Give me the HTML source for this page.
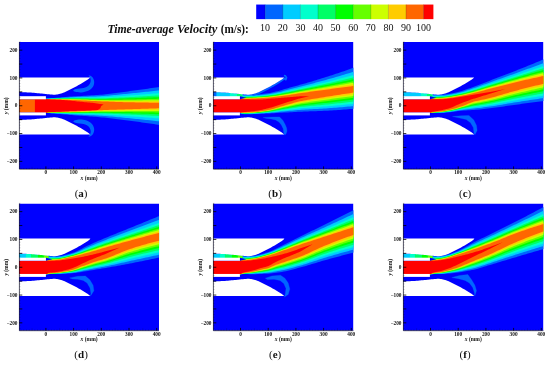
<!DOCTYPE html>
<html><head><meta charset="utf-8"><title>Time-average Velocity</title>
<style>html,body{margin:0;padding:0;background:#fff}svg{display:block}text{font-family:"Liberation Serif",serif;fill:#111}.tk{font-size:5.3px;font-weight:bold}.al{font-size:5.5px;font-weight:bold}.sl{font-size:11px}.cb{font-size:10px}.tt{font-size:12.6px;font-weight:bold}</style></head><body>
<svg width="550" height="367" viewBox="0 0 550 367">
<rect width="550" height="367" fill="#fff"/>
<defs>
<clipPath id="clipa"><rect x="19.10" y="42.00" width="139.95" height="127.20"/></clipPath>
<clipPath id="clipb"><rect x="213.10" y="42.00" width="140.35" height="127.20"/></clipPath>
<clipPath id="clipc"><rect x="403.10" y="42.00" width="140.35" height="127.20"/></clipPath>
<clipPath id="clipd"><rect x="19.10" y="203.50" width="139.95" height="127.20"/></clipPath>
<clipPath id="clipe"><rect x="213.10" y="203.50" width="140.35" height="127.20"/></clipPath>
<clipPath id="clipf"><rect x="403.10" y="203.50" width="140.35" height="127.20"/></clipPath>
</defs>
<rect x="256.20" y="4.55" width="9.10" height="14.6" fill="#0000ff"/>
<rect x="265.10" y="4.55" width="17.90" height="14.6" fill="#0066ff"/>
<rect x="282.80" y="4.55" width="17.80" height="14.6" fill="#00ccff"/>
<rect x="300.40" y="4.55" width="17.80" height="14.6" fill="#00ffcc"/>
<rect x="318.00" y="4.55" width="17.80" height="14.6" fill="#00ff66"/>
<rect x="335.60" y="4.55" width="17.80" height="14.6" fill="#00ff00"/>
<rect x="353.20" y="4.55" width="17.80" height="14.6" fill="#66ff00"/>
<rect x="370.80" y="4.55" width="17.80" height="14.6" fill="#ccff00"/>
<rect x="388.40" y="4.55" width="17.80" height="14.6" fill="#ffcc00"/>
<rect x="406.00" y="4.55" width="17.80" height="14.6" fill="#ff6600"/>
<rect x="423.60" y="4.55" width="9.80" height="14.6" fill="#ff0000"/>
<path d="M265.10,4.55v14.6M282.80,4.55v14.6M300.40,4.55v14.6M318.00,4.55v14.6M335.60,4.55v14.6M353.20,4.55v14.6M370.80,4.55v14.6M388.40,4.55v14.6M406.00,4.55v14.6M423.60,4.55v14.6" stroke="#000" stroke-opacity="0.35" stroke-width="0.5"/>
<text x="265.10" y="31.3" text-anchor="middle" class="cb">10</text>
<text x="282.80" y="31.3" text-anchor="middle" class="cb">20</text>
<text x="300.40" y="31.3" text-anchor="middle" class="cb">30</text>
<text x="318.00" y="31.3" text-anchor="middle" class="cb">40</text>
<text x="335.60" y="31.3" text-anchor="middle" class="cb">50</text>
<text x="353.20" y="31.3" text-anchor="middle" class="cb">60</text>
<text x="370.80" y="31.3" text-anchor="middle" class="cb">70</text>
<text x="388.40" y="31.3" text-anchor="middle" class="cb">80</text>
<text x="406.00" y="31.3" text-anchor="middle" class="cb">90</text>
<text x="423.60" y="31.3" text-anchor="middle" class="cb">100</text>
<text y="32.6" class="tt"><tspan x="107.4" font-style="italic" textLength="66.3" lengthAdjust="spacingAndGlyphs">Time-average</tspan> <tspan x="177.0" font-style="italic" textLength="40.3" lengthAdjust="spacingAndGlyphs">Velocity</tspan> <tspan x="220.7" textLength="28.1" lengthAdjust="spacingAndGlyphs">(m/s):</tspan></text>
<g clip-path="url(#clipa)">
<rect x="19.10" y="42.00" width="139.95" height="127.20" fill="#0000ff"/>
<polygon points="45.90,98.59 47.90,98.42 49.90,98.24 51.90,98.07 53.90,97.90 55.90,97.73 57.90,97.57 59.90,97.41 61.90,97.25 63.90,97.09 65.90,96.93 67.90,96.77 69.90,96.62 71.90,96.48 73.90,96.34 75.90,96.21 77.90,96.10 79.90,95.98 81.90,95.88 83.90,95.77 85.90,95.67 87.90,95.57 89.90,95.46 91.90,95.35 93.90,95.23 95.90,95.10 97.90,94.96 99.90,94.81 101.90,94.64 103.90,94.45 105.90,94.25 107.90,94.03 109.90,93.79 111.90,93.54 113.90,93.29 115.90,93.02 117.90,92.75 119.90,92.48 121.90,92.20 123.90,91.93 125.90,91.65 127.90,91.38 129.90,91.11 131.90,90.85 133.90,90.58 135.90,90.32 137.90,90.04 139.90,89.77 141.90,89.50 143.90,89.22 145.90,88.94 147.90,88.65 149.90,88.37 151.90,88.08 153.90,87.79 155.90,87.50 157.90,87.21 159.55,86.97 159.55,124.93 157.90,124.69 155.90,124.39 153.90,124.10 151.90,123.81 149.90,123.52 147.90,123.23 145.90,122.95 143.90,122.67 141.90,122.39 139.90,122.12 137.90,121.85 135.90,121.58 133.90,121.31 131.90,121.05 129.90,120.79 127.90,120.53 125.90,120.27 123.90,120.00 121.90,119.74 119.90,119.48 117.90,119.22 115.90,118.97 113.90,118.72 111.90,118.48 109.90,118.24 107.90,118.01 105.90,117.79 103.90,117.58 101.90,117.38 99.90,117.19 97.90,117.01 95.90,116.85 93.90,116.69 91.90,116.54 89.90,116.40 87.90,116.26 85.90,116.12 83.90,115.98 81.90,115.85 79.90,115.71 77.90,115.57 75.90,115.42 73.90,115.27 71.90,115.11 69.90,114.95 67.90,114.78 65.90,114.61 63.90,114.43 61.90,114.26 59.90,114.09 57.90,113.92 55.90,113.75 53.90,113.58 51.90,113.42 49.90,113.25 47.90,113.08 45.90,112.91" fill="#0066ff"/>
<polygon points="45.90,98.74 47.90,98.61 49.90,98.48 51.90,98.36 53.90,98.23 55.90,98.11 57.90,97.99 59.90,97.88 61.90,97.76 63.90,97.65 65.90,97.54 67.90,97.43 69.90,97.32 71.90,97.22 73.90,97.13 75.90,97.05 77.90,96.97 79.90,96.91 81.90,96.84 83.90,96.78 85.90,96.72 87.90,96.67 89.90,96.60 91.90,96.54 93.90,96.47 95.90,96.39 97.90,96.30 99.90,96.20 101.90,96.08 103.90,95.95 105.90,95.81 107.90,95.65 109.90,95.48 111.90,95.30 113.90,95.12 115.90,94.92 117.90,94.73 119.90,94.53 121.90,94.32 123.90,94.12 125.90,93.91 127.90,93.71 129.90,93.51 131.90,93.31 133.90,93.11 135.90,92.90 137.90,92.70 139.90,92.49 141.90,92.28 143.90,92.07 145.90,91.86 147.90,91.64 149.90,91.42 151.90,91.20 153.90,90.98 155.90,90.75 157.90,90.52 159.55,90.33 159.55,121.37 157.90,121.19 155.90,120.97 153.90,120.75 151.90,120.54 149.90,120.32 147.90,120.11 145.90,119.90 143.90,119.69 141.90,119.49 139.90,119.29 137.90,119.09 135.90,118.89 133.90,118.69 131.90,118.50 129.90,118.31 127.90,118.12 125.90,117.93 123.90,117.73 121.90,117.54 119.90,117.35 117.90,117.16 115.90,116.97 113.90,116.79 111.90,116.61 109.90,116.44 107.90,116.28 105.90,116.12 103.90,115.97 101.90,115.83 99.90,115.70 97.90,115.58 95.90,115.46 93.90,115.36 91.90,115.27 89.90,115.18 87.90,115.09 85.90,115.00 83.90,114.92 81.90,114.83 79.90,114.75 77.90,114.66 75.90,114.56 73.90,114.46 71.90,114.35 69.90,114.23 67.90,114.11 65.90,113.99 63.90,113.87 61.90,113.74 59.90,113.62 57.90,113.50 55.90,113.38 53.90,113.26 51.90,113.13 49.90,113.01 47.90,112.88 45.90,112.76" fill="#00ccff"/>
<polygon points="45.90,98.87 47.90,98.77 49.90,98.68 51.90,98.59 53.90,98.51 55.90,98.42 57.90,98.34 59.90,98.26 61.90,98.19 63.90,98.11 65.90,98.04 67.90,97.97 69.90,97.90 71.90,97.84 73.90,97.78 75.90,97.73 77.90,97.69 79.90,97.66 81.90,97.64 83.90,97.61 85.90,97.59 87.90,97.57 89.90,97.55 91.90,97.52 93.90,97.49 95.90,97.45 97.90,97.40 99.90,97.34 101.90,97.27 103.90,97.18 105.90,97.09 107.90,96.98 109.90,96.87 111.90,96.75 113.90,96.62 115.90,96.49 117.90,96.35 119.90,96.21 121.90,96.06 123.90,95.92 125.90,95.77 127.90,95.62 129.90,95.48 131.90,95.33 133.90,95.18 135.90,95.03 137.90,94.88 139.90,94.73 141.90,94.57 143.90,94.42 145.90,94.26 147.90,94.09 149.90,93.93 151.90,93.76 153.90,93.59 155.90,93.42 157.90,93.25 159.55,93.10 159.55,118.44 157.90,118.31 155.90,118.16 153.90,118.00 151.90,117.85 149.90,117.69 147.90,117.54 145.90,117.39 143.90,117.25 141.90,117.10 139.90,116.96 137.90,116.82 135.90,116.68 133.90,116.54 131.90,116.40 129.90,116.27 127.90,116.14 125.90,116.00 123.90,115.87 121.90,115.73 119.90,115.60 117.90,115.46 115.90,115.33 113.90,115.21 111.90,115.08 109.90,114.96 107.90,114.85 105.90,114.74 103.90,114.64 101.90,114.55 99.90,114.47 97.90,114.39 95.90,114.33 93.90,114.27 91.90,114.22 89.90,114.17 87.90,114.13 85.90,114.09 83.90,114.04 81.90,114.00 79.90,113.96 77.90,113.91 75.90,113.85 73.90,113.79 71.90,113.72 69.90,113.64 67.90,113.56 65.90,113.48 63.90,113.40 61.90,113.32 59.90,113.24 57.90,113.15 55.90,113.07 53.90,112.99 51.90,112.90 49.90,112.81 47.90,112.72 45.90,112.63" fill="#00ffcc"/>
<polygon points="45.90,98.97 47.90,98.91 49.90,98.84 51.90,98.79 53.90,98.73 55.90,98.68 57.90,98.63 59.90,98.58 61.90,98.53 63.90,98.49 65.90,98.45 67.90,98.41 69.90,98.37 71.90,98.34 73.90,98.31 75.90,98.30 77.90,98.29 79.90,98.29 81.90,98.29 83.90,98.30 85.90,98.31 87.90,98.32 89.90,98.32 91.90,98.33 93.90,98.33 95.90,98.32 97.90,98.30 99.90,98.28 101.90,98.24 103.90,98.20 105.90,98.14 107.90,98.08 109.90,98.02 111.90,97.94 113.90,97.86 115.90,97.78 117.90,97.69 119.90,97.59 121.90,97.50 123.90,97.40 125.90,97.30 127.90,97.20 129.90,97.10 131.90,97.00 133.90,96.89 135.90,96.79 137.90,96.68 139.90,96.57 141.90,96.46 143.90,96.35 145.90,96.23 147.90,96.12 149.90,96.00 151.90,95.87 153.90,95.75 155.90,95.62 157.90,95.49 159.55,95.39 159.55,116.03 157.90,115.94 155.90,115.84 153.90,115.73 151.90,115.63 149.90,115.53 147.90,115.43 145.90,115.33 143.90,115.23 141.90,115.13 139.90,115.04 137.90,114.95 135.90,114.85 133.90,114.76 131.90,114.68 129.90,114.59 127.90,114.50 125.90,114.41 123.90,114.33 121.90,114.24 119.90,114.15 117.90,114.06 115.90,113.98 113.90,113.90 111.90,113.82 109.90,113.75 107.90,113.68 105.90,113.61 103.90,113.55 101.90,113.50 99.90,113.45 97.90,113.42 95.90,113.39 93.90,113.37 91.90,113.35 89.90,113.34 87.90,113.33 85.90,113.33 83.90,113.32 81.90,113.31 79.90,113.30 77.90,113.29 75.90,113.27 73.90,113.24 71.90,113.20 69.90,113.16 67.90,113.11 65.90,113.07 63.90,113.02 61.90,112.97 59.90,112.92 57.90,112.87 55.90,112.82 53.90,112.76 51.90,112.71 49.90,112.65 47.90,112.59 45.90,112.53" fill="#00ff66"/>
<polygon points="45.90,99.05 47.90,99.00 49.90,98.96 51.90,98.93 53.90,98.90 55.90,98.87 57.90,98.84 59.90,98.81 61.90,98.79 63.90,98.77 65.90,98.75 67.90,98.74 69.90,98.72 71.90,98.71 73.90,98.71 75.90,98.71 77.90,98.73 79.90,98.75 81.90,98.77 83.90,98.80 85.90,98.83 87.90,98.87 89.90,98.90 91.90,98.92 93.90,98.95 95.90,98.96 97.90,98.97 99.90,98.97 101.90,98.96 103.90,98.95 105.90,98.92 107.90,98.90 109.90,98.86 111.90,98.82 113.90,98.78 115.90,98.73 117.90,98.67 119.90,98.62 121.90,98.56 123.90,98.49 125.90,98.43 127.90,98.36 129.90,98.29 131.90,98.22 133.90,98.15 135.90,98.08 137.90,98.01 139.90,97.93 141.90,97.85 143.90,97.77 145.90,97.69 147.90,97.61 149.90,97.52 151.90,97.43 153.90,97.34 155.90,97.25 157.90,97.15 159.55,97.07 159.55,114.25 157.90,114.19 155.90,114.13 153.90,114.06 151.90,113.99 149.90,113.93 147.90,113.87 145.90,113.80 143.90,113.74 141.90,113.68 139.90,113.62 137.90,113.57 135.90,113.51 133.90,113.46 131.90,113.40 129.90,113.35 127.90,113.30 125.90,113.24 123.90,113.19 121.90,113.14 119.90,113.08 117.90,113.03 115.90,112.98 113.90,112.93 111.90,112.89 109.90,112.85 107.90,112.81 105.90,112.77 103.90,112.75 101.90,112.72 99.90,112.71 97.90,112.70 95.90,112.70 93.90,112.70 91.90,112.71 89.90,112.73 87.90,112.75 85.90,112.77 83.90,112.79 81.90,112.81 79.90,112.82 77.90,112.83 75.90,112.83 73.90,112.83 71.90,112.82 69.90,112.80 67.90,112.78 65.90,112.76 63.90,112.74 61.90,112.71 59.90,112.69 57.90,112.66 55.90,112.63 53.90,112.60 51.90,112.57 49.90,112.53 47.90,112.49 45.90,112.45" fill="#00ff00"/>
<polygon points="45.90,99.12 47.90,99.10 49.90,99.09 51.90,99.07 53.90,99.06 55.90,99.06 57.90,99.05 59.90,99.05 61.90,99.05 63.90,99.06 65.90,99.06 67.90,99.07 69.90,99.08 71.90,99.09 73.90,99.11 75.90,99.13 77.90,99.17 79.90,99.21 81.90,99.26 83.90,99.31 85.90,99.37 87.90,99.42 89.90,99.47 91.90,99.53 93.90,99.57 95.90,99.61 97.90,99.65 99.90,99.67 101.90,99.69 103.90,99.70 105.90,99.71 107.90,99.71 109.90,99.71 111.90,99.71 113.90,99.70 115.90,99.69 117.90,99.67 119.90,99.65 121.90,99.63 123.90,99.60 125.90,99.57 127.90,99.54 129.90,99.50 131.90,99.46 133.90,99.43 135.90,99.39 137.90,99.35 139.90,99.30 141.90,99.26 143.90,99.21 145.90,99.16 147.90,99.11 149.90,99.06 151.90,99.01 153.90,98.95 155.90,98.89 157.90,98.82 159.55,98.77 159.55,112.45 157.90,112.43 155.90,112.40 153.90,112.37 151.90,112.34 149.90,112.32 147.90,112.29 145.90,112.26 143.90,112.24 141.90,112.22 139.90,112.19 137.90,112.17 135.90,112.15 133.90,112.13 131.90,112.12 129.90,112.10 127.90,112.08 125.90,112.06 123.90,112.04 121.90,112.03 119.90,112.01 117.90,111.99 115.90,111.97 113.90,111.96 111.90,111.95 109.90,111.94 107.90,111.93 105.90,111.93 103.90,111.93 101.90,111.94 99.90,111.95 97.90,111.97 95.90,112.00 93.90,112.03 91.90,112.07 89.90,112.11 87.90,112.16 85.90,112.21 83.90,112.25 81.90,112.30 79.90,112.34 77.90,112.37 75.90,112.40 73.90,112.42 71.90,112.43 69.90,112.44 67.90,112.44 65.90,112.45 63.90,112.45 61.90,112.45 59.90,112.45 57.90,112.45 55.90,112.44 53.90,112.43 51.90,112.42 49.90,112.41 47.90,112.39 45.90,112.38" fill="#66ff00"/>
<polygon points="45.90,99.18 47.90,99.18 49.90,99.18 51.90,99.19 53.90,99.20 55.90,99.21 57.90,99.22 59.90,99.24 61.90,99.26 63.90,99.28 65.90,99.31 67.90,99.33 69.90,99.36 71.90,99.39 73.90,99.43 75.90,99.47 77.90,99.52 79.90,99.58 81.90,99.65 83.90,99.72 85.90,99.79 87.90,99.86 89.90,99.94 91.90,100.01 93.90,100.07 95.90,100.13 97.90,100.19 99.90,100.23 101.90,100.27 103.90,100.31 105.90,100.34 107.90,100.37 109.90,100.39 111.90,100.42 113.90,100.43 115.90,100.45 117.90,100.46 119.90,100.47 121.90,100.48 123.90,100.48 125.90,100.48 127.90,100.47 129.90,100.46 131.90,100.45 133.90,100.44 135.90,100.43 137.90,100.41 139.90,100.40 141.90,100.38 143.90,100.36 145.90,100.34 147.90,100.31 149.90,100.29 151.90,100.26 153.90,100.23 155.90,100.19 157.90,100.15 159.55,100.12 159.55,111.02 157.90,111.02 155.90,111.02 153.90,111.03 151.90,111.03 149.90,111.03 147.90,111.03 145.90,111.04 143.90,111.04 141.90,111.05 139.90,111.06 137.90,111.06 135.90,111.07 133.90,111.08 131.90,111.09 129.90,111.10 127.90,111.11 125.90,111.12 123.90,111.13 121.90,111.14 119.90,111.15 117.90,111.16 115.90,111.17 113.90,111.19 111.90,111.20 109.90,111.22 107.90,111.24 105.90,111.26 103.90,111.29 101.90,111.32 99.90,111.35 97.90,111.39 95.90,111.44 93.90,111.50 91.90,111.56 89.90,111.62 87.90,111.69 85.90,111.76 83.90,111.82 81.90,111.89 79.90,111.95 77.90,112.00 75.90,112.05 73.90,112.09 71.90,112.12 69.90,112.15 67.90,112.18 65.90,112.20 63.90,112.22 61.90,112.24 59.90,112.26 57.90,112.28 55.90,112.29 53.90,112.30 51.90,112.31 49.90,112.31 47.90,112.32 45.90,112.31" fill="#ccff00"/>
<polygon points="45.90,99.25 47.90,99.26 49.90,99.28 51.90,99.31 53.90,99.33 55.90,99.36 57.90,99.40 59.90,99.43 61.90,99.47 63.90,99.51 65.90,99.56 67.90,99.60 69.90,99.65 71.90,99.70 73.90,99.75 75.90,99.82 77.90,99.89 79.90,99.96 81.90,100.05 83.90,100.14 85.90,100.23 87.90,100.32 89.90,100.41 91.90,100.50 93.90,100.59 95.90,100.67 97.90,100.74 99.90,100.81 101.90,100.87 103.90,100.93 105.90,100.99 107.90,101.04 109.90,101.10 111.90,101.15 113.90,101.20 115.90,101.24 117.90,101.28 119.90,101.32 121.90,101.36 123.90,101.39 125.90,101.42 127.90,101.44 129.90,101.46 131.90,101.47 133.90,101.49 135.90,101.50 137.90,101.52 139.90,101.53 141.90,101.54 143.90,101.55 145.90,101.55 147.90,101.56 149.90,101.56 151.90,101.55 153.90,101.55 155.90,101.54 157.90,101.53 159.55,101.52 159.55,109.54 157.90,109.57 155.90,109.60 153.90,109.63 151.90,109.67 149.90,109.70 147.90,109.74 145.90,109.77 143.90,109.81 141.90,109.84 139.90,109.88 137.90,109.92 135.90,109.96 133.90,109.99 131.90,110.03 129.90,110.07 127.90,110.11 125.90,110.15 123.90,110.19 121.90,110.23 119.90,110.26 117.90,110.30 115.90,110.34 113.90,110.38 111.90,110.43 109.90,110.47 107.90,110.52 105.90,110.56 103.90,110.62 101.90,110.67 99.90,110.73 97.90,110.79 95.90,110.86 93.90,110.94 91.90,111.03 89.90,111.11 87.90,111.20 85.90,111.29 83.90,111.38 81.90,111.47 79.90,111.55 77.90,111.63 75.90,111.69 73.90,111.75 71.90,111.80 69.90,111.85 67.90,111.90 65.90,111.94 63.90,111.99 61.90,112.03 59.90,112.07 57.90,112.10 55.90,112.13 53.90,112.16 51.90,112.19 49.90,112.22 47.90,112.24 45.90,112.25" fill="#ffcc00"/>
<polygon points="45.90,99.30 47.90,99.33 49.90,99.37 51.90,99.41 53.90,99.45 55.90,99.50 57.90,99.55 59.90,99.60 61.90,99.65 63.90,99.71 65.90,99.77 67.90,99.83 69.90,99.90 71.90,99.96 73.90,100.03 75.90,100.11 77.90,100.19 79.90,100.29 81.90,100.39 83.90,100.49 85.90,100.60 87.90,100.71 89.90,100.81 91.90,100.92 93.90,101.02 95.90,101.12 97.90,101.21 99.90,101.30 101.90,101.38 103.90,101.45 105.90,101.53 107.90,101.61 109.90,101.69 111.90,101.76 113.90,101.84 115.90,101.91 117.90,101.97 119.90,102.04 121.90,102.10 123.90,102.16 125.90,102.21 127.90,102.26 129.90,102.30 131.90,102.34 133.90,102.37 135.90,102.41 137.90,102.45 139.90,102.48 141.90,102.51 143.90,102.55 145.90,102.57 147.90,102.60 149.90,102.63 151.90,102.65 153.90,102.67 155.90,102.68 157.90,102.69 159.55,102.70 159.55,108.29 157.90,108.34 155.90,108.40 153.90,108.46 151.90,108.52 149.90,108.58 147.90,108.64 145.90,108.70 143.90,108.76 141.90,108.83 139.90,108.89 137.90,108.95 135.90,109.01 133.90,109.08 131.90,109.14 129.90,109.20 127.90,109.27 125.90,109.33 123.90,109.39 121.90,109.45 119.90,109.52 117.90,109.58 115.90,109.64 113.90,109.71 111.90,109.77 109.90,109.84 107.90,109.91 105.90,109.98 103.90,110.05 101.90,110.13 99.90,110.20 97.90,110.29 95.90,110.38 93.90,110.48 91.90,110.58 89.90,110.69 87.90,110.79 85.90,110.90 83.90,111.01 81.90,111.11 79.90,111.21 77.90,111.31 75.90,111.39 73.90,111.47 71.90,111.54 69.90,111.60 67.90,111.67 65.90,111.73 63.90,111.79 61.90,111.85 59.90,111.90 57.90,111.95 55.90,112.00 53.90,112.05 51.90,112.09 49.90,112.13 47.90,112.17 45.90,112.20" fill="#ff6600"/>
<polygon points="45.90,99.30 47.40,99.32 48.90,99.35 50.40,99.39 51.90,99.44 53.40,99.50 54.90,99.56 56.40,99.63 57.90,99.70 59.40,99.77 60.90,99.85 62.40,99.94 63.90,100.06 65.40,100.18 66.90,100.31 68.40,100.45 69.90,100.59 71.40,100.74 72.90,100.90 74.40,101.07 75.90,101.25 77.40,101.42 78.90,101.57 80.40,101.72 81.90,101.87 83.40,102.01 84.90,102.15 86.40,102.30 87.90,102.44 89.40,102.58 90.90,102.72 92.40,102.87 93.90,103.03 95.40,103.21 96.90,103.42 98.40,103.65 99.90,103.89 101.10,104.10 103.60,104.50 101.20,106.00 100.40,108.20 97.80,109.90 94.00,110.30 93.90,110.30 92.40,110.37 90.90,110.43 89.40,110.49 87.90,110.55 86.40,110.60 84.90,110.65 83.40,110.70 81.90,110.74 80.40,110.78 78.90,110.82 77.40,110.86 75.90,110.90 74.40,110.94 72.90,110.99 71.40,111.04 69.90,111.10 68.40,111.18 66.90,111.27 65.40,111.37 63.90,111.47 62.40,111.57 60.90,111.66 59.40,111.73 57.90,111.79 56.40,111.86 54.90,111.92 53.40,111.97 51.90,112.03 50.40,112.08 48.90,112.12 47.40,112.16 45.90,112.20" fill="#ff0000"/>
<rect x="19.10" y="99.25" width="27.10" height="13.3" fill="#ff6600"/>
<rect x="34.90" y="99.25" width="12.50" height="13.3" fill="#ff0000"/>
<path d="M88.70,75.30 C89.08,75.18 91.58,76.15 92.50,77.30 C93.42,78.45 94.18,80.53 94.20,82.20 C94.22,83.87 93.60,85.87 92.60,87.30 C91.60,88.73 90.07,89.95 88.20,90.80 C86.33,91.65 83.57,92.23 81.40,92.40 C79.23,92.57 76.55,92.13 75.20,91.80 C73.85,91.47 73.17,90.87 73.30,90.40 C73.43,89.93 74.28,89.40 76.00,89.00 C77.72,88.60 81.50,88.57 83.60,88.00 C85.70,87.43 87.43,86.67 88.60,85.60 C89.77,84.53 90.33,82.87 90.60,81.60 C90.87,80.33 90.52,79.05 90.20,78.00 C89.88,76.95 88.32,75.42 88.70,75.30Z" fill="#0066ff"/>
<path d="M88.70,136.70 C89.08,136.82 91.58,135.85 92.50,134.70 C93.42,133.55 94.18,131.47 94.20,129.80 C94.22,128.13 93.60,126.13 92.60,124.70 C91.60,123.27 90.07,122.05 88.20,121.20 C86.33,120.35 83.57,119.77 81.40,119.60 C79.23,119.43 76.55,119.87 75.20,120.20 C73.85,120.53 73.17,121.13 73.30,121.60 C73.43,122.07 74.28,122.60 76.00,123.00 C77.72,123.40 81.50,123.43 83.60,124.00 C85.70,124.57 87.43,125.33 88.60,126.40 C89.77,127.47 90.33,129.13 90.60,130.40 C90.87,131.67 90.52,132.95 90.20,134.00 C89.88,135.05 88.32,136.58 88.70,136.70Z" fill="#0066ff"/>
<polygon points="19.10,77.45 90.20,77.45 90.20,77.45 90.10,77.54 89.10,78.39 88.10,79.18 87.10,79.89 86.10,80.57 85.10,81.21 84.10,81.84 83.10,82.46 82.10,83.06 81.10,83.65 80.10,84.23 79.10,84.80 78.10,85.36 77.10,85.90 76.10,86.43 75.10,86.96 74.10,87.48 73.10,87.99 72.10,88.51 71.10,89.04 70.10,89.56 69.10,90.08 68.10,90.57 67.10,91.04 66.10,91.50 65.10,91.95 64.10,92.38 63.10,92.78 62.10,93.15 61.10,93.48 60.10,93.81 59.10,94.11 58.10,94.34 57.10,94.49 56.10,94.59 55.10,94.67 54.10,94.70 53.10,94.67 52.10,94.60 51.10,94.51 50.10,94.44 49.10,94.35 48.10,94.26 47.10,94.15 46.10,94.05 45.10,93.94 44.10,93.83 43.10,93.72 42.10,93.61 41.10,93.51 40.10,93.41 39.10,93.32 38.10,93.22 37.10,93.13 36.10,93.03 35.10,92.94 34.10,92.86 33.10,92.77 32.10,92.69 31.10,92.62 30.10,92.56 29.10,92.50 28.10,92.44 27.10,92.38 26.10,92.33 25.10,92.28 24.10,92.23 23.10,92.19 22.10,92.15 21.10,92.11 20.10,92.08 19.10,92.05" fill="#fff"/>
<polygon points="19.10,134.55 90.20,134.55 90.20,134.55 90.10,134.46 89.10,133.61 88.10,132.82 87.10,132.11 86.10,131.43 85.10,130.79 84.10,130.16 83.10,129.54 82.10,128.94 81.10,128.35 80.10,127.77 79.10,127.20 78.10,126.64 77.10,126.10 76.10,125.57 75.10,125.04 74.10,124.52 73.10,124.01 72.10,123.49 71.10,122.96 70.10,122.44 69.10,121.92 68.10,121.43 67.10,120.96 66.10,120.50 65.10,120.05 64.10,119.62 63.10,119.22 62.10,118.85 61.10,118.52 60.10,118.19 59.10,117.89 58.10,117.66 57.10,117.51 56.10,117.41 55.10,117.33 54.10,117.30 53.10,117.33 52.10,117.40 51.10,117.49 50.10,117.56 49.10,117.65 48.10,117.74 47.10,117.85 46.10,117.95 45.10,118.06 44.10,118.17 43.10,118.28 42.10,118.39 41.10,118.49 40.10,118.59 39.10,118.68 38.10,118.78 37.10,118.87 36.10,118.97 35.10,119.06 34.10,119.14 33.10,119.23 32.10,119.31 31.10,119.38 30.10,119.44 29.10,119.50 28.10,119.56 27.10,119.62 26.10,119.67 25.10,119.72 24.10,119.77 23.10,119.81 22.10,119.85 21.10,119.89 20.10,119.92 19.10,119.95" fill="#fff"/>
<rect x="19.10" y="96.20" width="26.80" height="3.05" fill="#fff"/>
<rect x="19.10" y="112.45" width="26.80" height="2.95" fill="#fff"/>
</g>
<path d="M19.40,42.00V169.20H159.05" fill="none" stroke="#000" stroke-width="0.6"/>
<path d="M19.10,161.35h3.2M19.10,147.45h3.2M19.10,133.55h3.2M19.10,119.65h3.2M19.10,105.75h3.2M19.10,91.85h3.2M19.10,77.95h3.2M19.10,64.05h3.2M19.10,50.15h3.2M45.90,169.20v-2.8M73.60,169.20v-2.8M101.30,169.20v-2.8M129.00,169.20v-2.8M156.70,169.20v-2.8" stroke="#000" stroke-width="0.8" fill="none"/>
<path d="M19.10,166.91h1.5M19.10,164.13h1.5M19.10,158.57h1.5M19.10,155.79h1.5M19.10,153.01h1.5M19.10,150.23h1.5M19.10,144.67h1.5M19.10,141.89h1.5M19.10,139.11h1.5M19.10,136.33h1.5M19.10,130.77h1.5M19.10,127.99h1.5M19.10,125.21h1.5M19.10,122.43h1.5M19.10,116.87h1.5M19.10,114.09h1.5M19.10,111.31h1.5M19.10,108.53h1.5M19.10,102.97h1.5M19.10,100.19h1.5M19.10,97.41h1.5M19.10,94.63h1.5M19.10,89.07h1.5M19.10,86.29h1.5M19.10,83.51h1.5M19.10,80.73h1.5M19.10,75.17h1.5M19.10,72.39h1.5M19.10,69.61h1.5M19.10,66.83h1.5M19.10,61.27h1.5M19.10,58.49h1.5M19.10,55.71h1.5M19.10,52.93h1.5M19.10,47.37h1.5M19.10,44.59h1.5M19.10,41.81h1.5M20.97,169.20v-1.3M23.74,169.20v-1.3M26.51,169.20v-1.3M29.28,169.20v-1.3M32.05,169.20v-2.4M34.82,169.20v-1.3M37.59,169.20v-1.3M40.36,169.20v-1.3M43.13,169.20v-1.3M48.67,169.20v-1.3M51.44,169.20v-1.3M54.21,169.20v-1.3M56.98,169.20v-1.3M59.75,169.20v-2.4M62.52,169.20v-1.3M65.29,169.20v-1.3M68.06,169.20v-1.3M70.83,169.20v-1.3M76.37,169.20v-1.3M79.14,169.20v-1.3M81.91,169.20v-1.3M84.68,169.20v-1.3M87.45,169.20v-2.4M90.22,169.20v-1.3M92.99,169.20v-1.3M95.76,169.20v-1.3M98.53,169.20v-1.3M104.07,169.20v-1.3M106.84,169.20v-1.3M109.61,169.20v-1.3M112.38,169.20v-1.3M115.15,169.20v-2.4M117.92,169.20v-1.3M120.69,169.20v-1.3M123.46,169.20v-1.3M126.23,169.20v-1.3M131.77,169.20v-1.3M134.54,169.20v-1.3M137.31,169.20v-1.3M140.08,169.20v-1.3M142.85,169.20v-2.4M145.62,169.20v-1.3M148.39,169.20v-1.3M151.16,169.20v-1.3M153.93,169.20v-1.3" stroke="#000" stroke-width="0.45" stroke-opacity="0.4" fill="none"/>
<text x="17.50" y="51.85" text-anchor="end" class="tk">200</text>
<text x="17.50" y="79.65" text-anchor="end" class="tk">100</text>
<text x="17.50" y="107.45" text-anchor="end" class="tk">0</text>
<text x="17.50" y="135.25" text-anchor="end" class="tk">−100</text>
<text x="17.50" y="163.05" text-anchor="end" class="tk">−200</text>
<text x="45.90" y="174.30" text-anchor="middle" class="tk">0</text>
<text x="73.60" y="174.30" text-anchor="middle" class="tk">100</text>
<text x="101.30" y="174.30" text-anchor="middle" class="tk">200</text>
<text x="129.00" y="174.30" text-anchor="middle" class="tk">300</text>
<text x="156.70" y="174.30" text-anchor="middle" class="tk">400</text>
<text x="89.08" y="179.90" text-anchor="middle" class="al"><tspan font-style="italic">x</tspan> (mm)</text>
<text transform="translate(7.60,105.75) rotate(-90)" text-anchor="middle" class="al"><tspan font-style="italic">y</tspan> (mm)</text>
<text x="81.10" y="196.90" text-anchor="middle" class="sl">(<tspan font-weight="bold">a</tspan>)</text>
<g clip-path="url(#clipb)">
<rect x="213.10" y="42.00" width="140.35" height="127.20" fill="#0000ff"/>
<polygon points="239.90,94.30 241.90,94.44 243.90,94.55 245.90,94.60 247.90,94.60 249.90,94.60 251.90,94.60 253.90,94.58 255.90,94.50 257.90,94.38 259.90,94.24 261.90,94.08 263.90,93.84 265.90,93.55 267.90,93.23 269.90,92.89 271.90,92.51 273.90,92.09 275.90,91.62 277.90,91.13 279.90,90.60 281.90,90.03 283.90,89.36 285.90,88.76 287.90,88.18 289.90,87.62 291.90,87.08 293.90,86.53 295.90,85.99 297.90,85.44 299.90,84.87 301.90,84.30 303.90,83.72 305.90,83.14 307.90,82.56 309.90,81.98 311.90,81.39 313.90,80.80 315.90,80.20 317.90,79.60 319.90,78.99 321.90,78.37 323.90,77.75 325.90,77.11 327.90,76.47 329.90,75.83 331.90,75.18 333.90,74.52 335.90,73.85 337.90,73.18 339.90,72.51 341.90,71.82 343.90,71.13 345.90,70.44 347.90,69.73 349.90,69.03 351.90,68.31 353.95,67.58 353.95,108.78 351.90,108.95 349.90,109.12 347.90,109.28 345.90,109.45 343.90,109.60 341.90,109.75 339.90,109.90 337.90,110.04 335.90,110.18 333.90,110.31 331.90,110.43 329.90,110.54 327.90,110.65 325.90,110.76 323.90,110.85 321.90,110.94 319.90,111.02 317.90,111.09 315.90,111.16 313.90,111.22 311.90,111.29 309.90,111.35 307.90,111.42 305.90,111.49 303.90,111.56 301.90,111.64 299.90,111.73 297.90,111.82 295.90,111.93 293.90,112.04 291.90,112.15 289.90,112.27 287.90,112.38 285.90,112.50 283.90,112.61 281.90,112.72 279.90,112.84 277.90,112.96 275.90,113.07 273.90,113.19 271.90,113.30 269.90,113.40 267.90,113.49 265.90,113.58 263.90,113.67 261.90,113.77 259.90,113.86 257.90,113.95 255.90,114.04 253.90,114.12 251.90,114.18 249.90,114.24 247.90,114.28 245.90,114.30 243.90,114.24 241.90,113.79 239.90,113.20" fill="#0066ff"/>
<polygon points="239.90,95.35 241.90,95.45 243.90,95.52 245.90,95.54 247.90,95.52 249.90,95.51 251.90,95.49 253.90,95.45 255.90,95.37 257.90,95.26 259.90,95.13 261.90,94.97 263.90,94.76 265.90,94.51 267.90,94.23 269.90,93.92 271.90,93.58 273.90,93.20 275.90,92.79 277.90,92.35 279.90,91.89 281.90,91.38 283.90,90.80 285.90,90.28 287.90,89.76 289.90,89.25 291.90,88.75 293.90,88.26 295.90,87.76 297.90,87.26 299.90,86.75 301.90,86.24 303.90,85.72 305.90,85.21 307.90,84.69 309.90,84.18 311.90,83.66 313.90,83.14 315.90,82.62 317.90,82.09 319.90,81.55 321.90,81.01 323.90,80.47 325.90,79.92 327.90,79.36 329.90,78.79 331.90,78.23 333.90,77.65 335.90,77.08 337.90,76.49 339.90,75.91 341.90,75.32 343.90,74.72 345.90,74.12 347.90,73.51 349.90,72.90 351.90,72.29 353.95,71.66 353.95,106.02 351.90,106.21 349.90,106.40 347.90,106.59 345.90,106.77 343.90,106.96 341.90,107.13 339.90,107.31 337.90,107.48 335.90,107.64 333.90,107.80 331.90,107.96 329.90,108.11 327.90,108.25 325.90,108.39 323.90,108.53 321.90,108.65 319.90,108.77 317.90,108.89 315.90,109.00 313.90,109.10 311.90,109.21 309.90,109.32 307.90,109.44 305.90,109.56 303.90,109.68 301.90,109.82 299.90,109.96 297.90,110.12 295.90,110.29 293.90,110.47 291.90,110.66 289.90,110.86 287.90,111.05 285.90,111.24 283.90,111.43 281.90,111.62 279.90,111.82 277.90,112.02 275.90,112.22 273.90,112.41 271.90,112.60 269.90,112.76 267.90,112.91 265.90,113.04 263.90,113.18 261.90,113.31 259.90,113.44 257.90,113.56 255.90,113.67 253.90,113.76 251.90,113.84 249.90,113.90 247.90,113.95 245.90,113.97 243.90,113.94 241.90,113.57 239.90,113.08" fill="#00ccff"/>
<polygon points="239.90,96.18 241.90,96.24 243.90,96.28 245.90,96.29 247.90,96.26 249.90,96.22 251.90,96.19 253.90,96.14 255.90,96.06 257.90,95.95 259.90,95.83 261.90,95.68 263.90,95.49 265.90,95.26 267.90,95.01 269.90,94.74 271.90,94.44 273.90,94.09 275.90,93.72 277.90,93.32 279.90,92.90 281.90,92.45 283.90,91.95 285.90,91.48 287.90,91.01 289.90,90.55 291.90,90.08 293.90,89.62 295.90,89.16 297.90,88.70 299.90,88.24 301.90,87.78 303.90,87.31 305.90,86.85 307.90,86.39 309.90,85.93 311.90,85.47 313.90,85.00 315.90,84.53 317.90,84.06 319.90,83.59 321.90,83.11 323.90,82.63 325.90,82.14 327.90,81.65 329.90,81.15 331.90,80.65 333.90,80.14 335.90,79.63 337.90,79.12 339.90,78.61 341.90,78.09 343.90,77.57 345.90,77.04 347.90,76.51 349.90,75.98 351.90,75.44 353.95,74.89 353.95,103.73 351.90,103.94 349.90,104.15 347.90,104.35 345.90,104.56 343.90,104.76 341.90,104.96 339.90,105.16 337.90,105.35 335.90,105.54 333.90,105.72 331.90,105.91 329.90,106.09 327.90,106.26 325.90,106.43 323.90,106.60 321.90,106.76 319.90,106.91 317.90,107.06 315.90,107.20 313.90,107.35 311.90,107.49 309.90,107.64 307.90,107.79 305.90,107.95 303.90,108.12 301.90,108.30 299.90,108.49 297.90,108.70 295.90,108.93 293.90,109.18 291.90,109.43 289.90,109.68 287.90,109.94 285.90,110.20 283.90,110.45 281.90,110.70 279.90,110.97 277.90,111.24 275.90,111.51 273.90,111.77 271.90,112.01 269.90,112.24 267.90,112.43 265.90,112.60 263.90,112.76 261.90,112.93 259.90,113.09 257.90,113.23 255.90,113.36 253.90,113.47 251.90,113.56 249.90,113.62 247.90,113.67 245.90,113.71 243.90,113.68 241.90,113.38 239.90,112.98" fill="#00ffcc"/>
<polygon points="239.90,96.80 241.90,96.84 243.90,96.86 245.90,96.84 247.90,96.80 249.90,96.76 251.90,96.72 253.90,96.66 255.90,96.58 257.90,96.47 259.90,96.35 261.90,96.21 263.90,96.03 265.90,95.83 267.90,95.60 269.90,95.35 271.90,95.07 273.90,94.76 275.90,94.41 277.90,94.05 279.90,93.67 281.90,93.26 283.90,92.80 285.90,92.37 287.90,91.94 289.90,91.51 291.90,91.08 293.90,90.64 295.90,90.21 297.90,89.78 299.90,89.35 301.90,88.92 303.90,88.50 305.90,88.08 307.90,87.65 309.90,87.23 311.90,86.81 313.90,86.39 315.90,85.97 317.90,85.54 319.90,85.11 321.90,84.68 323.90,84.24 325.90,83.80 327.90,83.35 329.90,82.90 331.90,82.45 333.90,82.00 335.90,81.54 337.90,81.08 339.90,80.62 341.90,80.16 343.90,79.69 345.90,79.22 347.90,78.75 349.90,78.27 351.90,77.79 353.95,77.30 353.95,101.57 351.90,101.80 349.90,102.02 347.90,102.25 345.90,102.47 343.90,102.69 341.90,102.91 339.90,103.13 337.90,103.34 335.90,103.55 333.90,103.77 331.90,103.97 329.90,104.18 327.90,104.38 325.90,104.58 323.90,104.78 321.90,104.97 319.90,105.15 317.90,105.33 315.90,105.51 313.90,105.69 311.90,105.87 309.90,106.05 307.90,106.25 305.90,106.44 303.90,106.65 301.90,106.87 299.90,107.11 297.90,107.37 295.90,107.65 293.90,107.95 291.90,108.26 289.90,108.58 287.90,108.90 285.90,109.22 283.90,109.52 281.90,109.84 279.90,110.17 277.90,110.51 275.90,110.84 273.90,111.16 271.90,111.47 269.90,111.74 267.90,111.97 265.90,112.17 263.90,112.38 261.90,112.57 259.90,112.76 257.90,112.93 255.90,113.07 253.90,113.20 251.90,113.29 249.90,113.36 247.90,113.42 245.90,113.46 243.90,113.45 241.90,113.21 239.90,112.89" fill="#00ff66"/>
<polygon points="239.90,97.28 241.90,97.29 243.90,97.29 245.90,97.27 247.90,97.22 249.90,97.17 251.90,97.12 253.90,97.06 255.90,96.97 257.90,96.86 259.90,96.75 261.90,96.61 263.90,96.45 265.90,96.26 267.90,96.05 269.90,95.82 271.90,95.56 273.90,95.26 275.90,94.94 277.90,94.60 279.90,94.25 281.90,93.87 283.90,93.45 285.90,93.06 287.90,92.65 289.90,92.25 291.90,91.84 293.90,91.42 295.90,91.01 297.90,90.61 299.90,90.20 301.90,89.80 303.90,89.41 305.90,89.01 307.90,88.62 309.90,88.23 311.90,87.84 313.90,87.45 315.90,87.06 317.90,86.67 319.90,86.27 321.90,85.87 323.90,85.47 325.90,85.07 327.90,84.66 329.90,84.25 331.90,83.83 333.90,83.42 335.90,83.00 337.90,82.58 339.90,82.16 341.90,81.74 343.90,81.31 345.90,80.89 347.90,80.46 349.90,80.02 351.90,79.59 353.95,79.15 353.95,99.59 351.90,99.83 349.90,100.07 347.90,100.31 345.90,100.55 343.90,100.79 341.90,101.03 339.90,101.26 337.90,101.50 335.90,101.74 333.90,101.97 331.90,102.20 329.90,102.43 327.90,102.66 325.90,102.89 323.90,103.11 321.90,103.33 319.90,103.54 317.90,103.75 315.90,103.96 313.90,104.17 311.90,104.38 309.90,104.60 307.90,104.82 305.90,105.06 303.90,105.31 301.90,105.57 299.90,105.84 297.90,106.15 295.90,106.48 293.90,106.83 291.90,107.19 289.90,107.57 287.90,107.94 285.90,108.31 283.90,108.67 281.90,109.04 279.90,109.44 277.90,109.83 275.90,110.23 273.90,110.61 271.90,110.96 269.90,111.28 267.90,111.55 265.90,111.79 263.90,112.02 261.90,112.24 259.90,112.45 257.90,112.64 255.90,112.81 253.90,112.95 251.90,113.05 249.90,113.12 247.90,113.18 245.90,113.22 243.90,113.23 241.90,113.05 239.90,112.80" fill="#00ff00"/>
<polygon points="239.90,97.78 241.90,97.77 243.90,97.76 245.90,97.72 247.90,97.66 249.90,97.61 251.90,97.54 253.90,97.47 255.90,97.39 257.90,97.28 259.90,97.17 261.90,97.04 263.90,96.89 265.90,96.72 267.90,96.53 269.90,96.31 271.90,96.07 273.90,95.80 275.90,95.51 277.90,95.19 279.90,94.86 281.90,94.52 283.90,94.15 285.90,93.78 287.90,93.41 289.90,93.03 291.90,92.64 293.90,92.25 295.90,91.86 297.90,91.48 299.90,91.10 301.90,90.73 303.90,90.37 305.90,90.01 307.90,89.65 309.90,89.29 311.90,88.93 313.90,88.58 315.90,88.22 317.90,87.86 319.90,87.50 321.90,87.14 323.90,86.78 325.90,86.41 327.90,86.04 329.90,85.67 331.90,85.30 333.90,84.92 335.90,84.55 337.90,84.17 339.90,83.79 341.90,83.41 343.90,83.03 345.90,82.65 347.90,82.27 349.90,81.88 351.90,81.50 353.95,81.10 353.95,97.67 351.90,97.93 349.90,98.19 347.90,98.44 345.90,98.70 343.90,98.95 341.90,99.21 339.90,99.46 337.90,99.72 335.90,99.98 333.90,100.23 331.90,100.49 329.90,100.74 327.90,100.99 325.90,101.25 323.90,101.50 321.90,101.74 319.90,101.98 317.90,102.22 315.90,102.46 313.90,102.70 311.90,102.94 309.90,103.19 307.90,103.45 305.90,103.72 303.90,104.00 301.90,104.30 299.90,104.62 297.90,104.96 295.90,105.34 293.90,105.74 291.90,106.16 289.90,106.59 287.90,107.02 285.90,107.44 283.90,107.85 281.90,108.28 279.90,108.73 277.90,109.18 275.90,109.64 273.90,110.07 271.90,110.48 269.90,110.84 267.90,111.15 265.90,111.41 263.90,111.68 261.90,111.93 259.90,112.16 257.90,112.37 255.90,112.55 253.90,112.70 251.90,112.81 249.90,112.89 247.90,112.95 245.90,113.00 243.90,113.02 241.90,112.90 239.90,112.72" fill="#66ff00"/>
<polygon points="239.90,98.18 241.90,98.16 243.90,98.12 245.90,98.08 247.90,98.02 249.90,97.95 251.90,97.88 253.90,97.81 255.90,97.72 257.90,97.62 259.90,97.51 261.90,97.38 263.90,97.24 265.90,97.08 267.90,96.91 269.90,96.71 271.90,96.48 273.90,96.23 275.90,95.95 277.90,95.66 279.90,95.35 281.90,95.03 283.90,94.70 285.90,94.36 287.90,94.01 289.90,93.65 291.90,93.28 293.90,92.91 295.90,92.54 297.90,92.17 299.90,91.82 301.90,91.47 303.90,91.13 305.90,90.79 307.90,90.46 309.90,90.13 311.90,89.80 313.90,89.47 315.90,89.14 317.90,88.81 319.90,88.48 321.90,88.15 323.90,87.82 325.90,87.48 327.90,87.14 329.90,86.80 331.90,86.46 333.90,86.12 335.90,85.78 337.90,85.43 339.90,85.09 341.90,84.75 343.90,84.40 345.90,84.05 347.90,83.71 349.90,83.36 351.90,83.01 353.95,82.65 353.95,95.86 351.90,96.13 349.90,96.40 347.90,96.67 345.90,96.94 343.90,97.21 341.90,97.48 339.90,97.76 337.90,98.03 335.90,98.31 333.90,98.58 331.90,98.86 329.90,99.13 327.90,99.41 325.90,99.69 323.90,99.97 321.90,100.24 319.90,100.50 317.90,100.77 315.90,101.03 313.90,101.30 311.90,101.58 309.90,101.86 307.90,102.15 305.90,102.45 303.90,102.76 301.90,103.10 299.90,103.45 297.90,103.84 295.90,104.26 293.90,104.71 291.90,105.18 289.90,105.66 287.90,106.14 285.90,106.61 283.90,107.07 281.90,107.55 279.90,108.05 277.90,108.56 275.90,109.07 273.90,109.56 271.90,110.02 269.90,110.42 267.90,110.76 265.90,111.06 263.90,111.35 261.90,111.62 259.90,111.88 257.90,112.11 255.90,112.31 253.90,112.47 251.90,112.59 249.90,112.66 247.90,112.73 245.90,112.79 243.90,112.82 241.90,112.75 239.90,112.64" fill="#ccff00"/>
<polygon points="239.90,98.60 241.90,98.56 243.90,98.51 245.90,98.46 247.90,98.39 249.90,98.32 251.90,98.24 253.90,98.16 255.90,98.07 257.90,97.97 259.90,97.86 261.90,97.74 263.90,97.61 265.90,97.47 267.90,97.31 269.90,97.12 271.90,96.91 273.90,96.68 275.90,96.43 277.90,96.15 279.90,95.87 281.90,95.58 283.90,95.28 285.90,94.97 287.90,94.65 289.90,94.31 291.90,93.96 293.90,93.61 295.90,93.25 297.90,92.91 299.90,92.57 301.90,92.25 303.90,91.94 305.90,91.63 307.90,91.32 309.90,91.02 311.90,90.72 313.90,90.42 315.90,90.12 317.90,89.82 319.90,89.52 321.90,89.22 323.90,88.91 325.90,88.61 327.90,88.30 329.90,88.00 331.90,87.69 333.90,87.38 335.90,87.08 337.90,86.77 339.90,86.46 341.90,86.16 343.90,85.85 345.90,85.54 347.90,85.23 349.90,84.92 351.90,84.62 353.95,84.30 353.95,94.28 351.90,94.57 349.90,94.85 347.90,95.13 345.90,95.41 343.90,95.70 341.90,95.99 339.90,96.28 337.90,96.57 335.90,96.86 333.90,97.15 331.90,97.45 329.90,97.74 327.90,98.04 325.90,98.34 323.90,98.64 321.90,98.93 319.90,99.22 317.90,99.51 315.90,99.80 313.90,100.09 311.90,100.39 309.90,100.70 307.90,101.02 305.90,101.35 303.90,101.69 301.90,102.06 299.90,102.44 297.90,102.87 295.90,103.33 293.90,103.82 291.90,104.33 289.90,104.85 287.90,105.38 285.90,105.89 283.90,106.40 281.90,106.92 279.90,107.47 277.90,108.03 275.90,108.58 273.90,109.12 271.90,109.62 269.90,110.06 267.90,110.43 265.90,110.75 263.90,111.06 261.90,111.36 259.90,111.64 257.90,111.89 255.90,112.10 253.90,112.27 251.90,112.39 249.90,112.47 247.90,112.54 245.90,112.61 243.90,112.65 241.90,112.63 239.90,112.57" fill="#ffcc00"/>
<polygon points="239.90,99.00 241.90,98.94 243.90,98.88 245.90,98.81 247.90,98.74 249.90,98.66 251.90,98.58 253.90,98.49 255.90,98.40 257.90,98.30 259.90,98.20 261.90,98.08 263.90,97.96 265.90,97.83 267.90,97.68 269.90,97.52 271.90,97.32 273.90,97.11 275.90,96.87 277.90,96.62 279.90,96.36 281.90,96.10 283.90,95.83 285.90,95.55 287.90,95.25 289.90,94.93 291.90,94.60 293.90,94.26 295.90,93.93 297.90,93.60 299.90,93.29 301.90,92.99 303.90,92.70 305.90,92.42 307.90,92.14 309.90,91.86 311.90,91.58 313.90,91.31 315.90,91.04 317.90,90.77 319.90,90.50 321.90,90.22 323.90,89.95 325.90,89.68 327.90,89.40 329.90,89.13 331.90,88.85 333.90,88.58 335.90,88.31 337.90,88.03 339.90,87.76 341.90,87.49 343.90,87.21 345.90,86.94 347.90,86.67 349.90,86.40 351.90,86.13 353.95,85.85 353.95,92.55 351.90,92.85 349.90,93.14 347.90,93.43 345.90,93.73 343.90,94.03 341.90,94.34 339.90,94.64 337.90,94.95 335.90,95.26 333.90,95.58 331.90,95.89 329.90,96.21 327.90,96.53 325.90,96.85 323.90,97.18 321.90,97.50 319.90,97.81 317.90,98.13 315.90,98.44 313.90,98.76 311.90,99.09 309.90,99.42 307.90,99.77 305.90,100.13 303.90,100.51 301.90,100.91 299.90,101.33 297.90,101.79 295.90,102.30 293.90,102.83 291.90,103.39 289.90,103.96 287.90,104.54 285.90,105.10 283.90,105.65 281.90,106.22 279.90,106.82 277.90,107.44 275.90,108.05 273.90,108.63 271.90,109.18 269.90,109.66 267.90,110.06 265.90,110.41 263.90,110.75 261.90,111.07 259.90,111.37 257.90,111.64 255.90,111.87 253.90,112.05 251.90,112.18 249.90,112.26 247.90,112.34 245.90,112.40 243.90,112.45 241.90,112.49 239.90,112.50" fill="#ff6600"/>
<polygon points="239.90,99.20 241.40,99.23 242.90,99.26 244.40,99.29 245.90,99.32 247.40,99.34 248.90,99.36 250.40,99.39 251.90,99.41 253.40,99.43 254.90,99.45 256.40,99.47 257.90,99.49 259.40,99.50 260.90,99.50 262.40,99.43 263.90,99.29 265.40,99.13 266.90,98.97 268.40,98.84 269.90,98.73 271.40,98.62 272.90,98.50 274.40,98.39 275.90,98.28 277.40,98.17 278.90,98.06 280.40,97.95 281.90,97.83 283.40,97.71 284.90,97.59 286.40,97.47 287.90,97.35 289.40,97.23 290.90,97.11 292.40,96.98 293.90,96.86 295.40,96.73 296.90,96.61 298.40,96.48 299.90,96.35 300.50,96.30 309.30,96.30 300.50,98.20 299.90,98.38 298.40,98.83 296.90,99.29 295.40,99.74 293.90,100.20 292.40,100.67 290.90,101.14 289.40,101.61 287.90,102.08 286.40,102.56 284.90,103.04 283.40,103.53 281.90,104.03 280.40,104.53 278.90,105.03 277.40,105.52 275.90,106.00 274.40,106.47 272.90,106.93 271.40,107.38 269.90,107.81 268.40,108.22 266.90,108.60 265.40,108.96 263.90,109.31 262.40,109.64 260.90,109.94 259.40,110.22 257.90,110.48 256.40,110.73 254.90,110.96 253.40,111.16 251.90,111.35 250.40,111.50 248.90,111.65 247.40,111.79 245.90,111.93 244.40,112.04 242.90,112.15 241.40,112.23 239.90,112.30" fill="#ff0000"/>
<rect x="213.10" y="99.25" width="28.30" height="13.3" fill="#ff0000"/>
<polygon points="263.10,117.50 271.80,117.10 279.60,116.90 283.00,120.60 285.40,124.90 286.60,128.10 287.00,130.90 286.00,134.00 284.70,134.90 283.80,133.10 283.20,128.70 281.40,125.00 279.00,122.00 275.60,120.00 271.00,118.90 266.40,118.40" fill="#0066ff" stroke="#0066ff" stroke-width="0.3" stroke-linejoin="round"/>
<polygon points="213.10,92.05 214.10,92.08 215.10,92.11 216.10,92.15 217.10,92.19 218.10,92.23 219.10,92.28 220.10,92.33 221.10,92.38 222.10,92.44 223.10,92.50 224.10,92.56 225.10,92.62 226.10,92.69 227.10,92.77 228.10,92.86 229.10,92.94 230.10,93.03 231.10,93.13 232.10,93.22 233.10,93.32 234.10,93.41 235.10,93.51 236.10,93.61 237.10,93.72 238.10,93.83 239.10,93.94 240.10,94.05 241.10,94.15 242.10,94.26 242.40,94.29 242.40,96.75 213.10,96.75" fill="#0066ff"/>
<polygon points="216.40,92.16 217.40,92.20 218.40,92.25 219.40,92.29 220.40,92.35 221.40,92.40 222.40,92.46 223.40,92.51 224.40,92.57 225.40,92.64 226.40,92.72 227.40,92.80 228.40,92.88 229.40,92.97 230.40,93.06 231.40,93.16 232.40,93.25 233.40,93.34 234.40,93.44 235.40,93.54 236.40,93.64 237.40,93.75 238.40,93.86 239.40,93.97 240.40,94.08 241.40,94.19 242.40,94.29 242.40,94.29 242.40,96.75 216.40,96.75" fill="#00ccff"/>
<polygon points="229.90,93.02 230.90,93.11 231.90,93.20 232.90,93.30 233.90,93.39 234.90,93.49 235.90,93.59 236.90,93.70 237.90,93.80 238.90,93.92 239.90,94.03 240.90,94.13 241.90,94.24 242.40,94.29 242.40,96.75 229.90,96.75" fill="#00ffcc"/>
<polygon points="236.90,93.70 237.90,93.80 238.90,93.92 239.90,94.03 240.90,94.13 241.90,94.24 242.40,94.29 242.40,96.75 236.90,96.75" fill="#00ff66"/>
<polygon points="239.90,96.15 239.90,99.25 246.40,97.75" fill="#0000ff"/>
<polyline points="252.40,95.24 253.40,95.01 254.40,94.71 255.40,94.38 256.40,94.05 257.40,93.68 258.40,93.28 259.40,92.85 260.40,92.40 261.40,91.94 262.40,91.47 263.40,90.98 264.40,90.46 265.40,89.94 266.40,89.41 267.40,88.89 268.40,88.38 269.40,87.86 270.40,87.33 271.40,86.80 272.40,86.26 273.40,85.70 274.40,85.13 275.40,84.55 276.40,83.96 277.40,83.36 278.40,82.74 279.40,82.11 280.40,81.47 281.40,80.79 282.40,80.08 283.40,79.29 284.40,78.44 284.50,78.35 285.80,79.65 286.50,77.75 285.40,75.85 283.90,75.45" fill="none" stroke="#0066ff" stroke-width="1.7" stroke-linejoin="round"/>
<polygon points="213.10,77.45 284.20,77.45 284.20,77.45 284.10,77.54 283.10,78.39 282.10,79.18 281.10,79.89 280.10,80.57 279.10,81.21 278.10,81.84 277.10,82.46 276.10,83.06 275.10,83.65 274.10,84.23 273.10,84.80 272.10,85.36 271.10,85.90 270.10,86.43 269.10,86.96 268.10,87.48 267.10,87.99 266.10,88.51 265.10,89.04 264.10,89.56 263.10,90.08 262.10,90.57 261.10,91.04 260.10,91.50 259.10,91.95 258.10,92.38 257.10,92.78 256.10,93.15 255.10,93.48 254.10,93.81 253.10,94.11 252.10,94.34 251.10,94.49 250.10,94.59 249.10,94.67 248.10,94.70 247.10,94.67 246.10,94.60 245.10,94.51 244.10,94.44 243.10,94.35 242.10,94.26 241.10,94.15 240.10,94.05 239.10,93.94 238.10,93.83 237.10,93.72 236.10,93.61 235.10,93.51 234.10,93.41 233.10,93.32 232.10,93.22 231.10,93.13 230.10,93.03 229.10,92.94 228.10,92.86 227.10,92.77 226.10,92.69 225.10,92.62 224.10,92.56 223.10,92.50 222.10,92.44 221.10,92.38 220.10,92.33 219.10,92.28 218.10,92.23 217.10,92.19 216.10,92.15 215.10,92.11 214.10,92.08 213.10,92.05" fill="#fff"/>
<polygon points="213.10,134.55 284.20,134.55 284.20,134.55 284.10,134.46 283.10,133.61 282.10,132.82 281.10,132.11 280.10,131.43 279.10,130.79 278.10,130.16 277.10,129.54 276.10,128.94 275.10,128.35 274.10,127.77 273.10,127.20 272.10,126.64 271.10,126.10 270.10,125.57 269.10,125.04 268.10,124.52 267.10,124.01 266.10,123.49 265.10,122.96 264.10,122.44 263.10,121.92 262.10,121.43 261.10,120.96 260.10,120.50 259.10,120.05 258.10,119.62 257.10,119.22 256.10,118.85 255.10,118.52 254.10,118.19 253.10,117.89 252.10,117.66 251.10,117.51 250.10,117.41 249.10,117.33 248.10,117.30 247.10,117.33 246.10,117.40 245.10,117.49 244.10,117.56 243.10,117.65 242.10,117.74 241.10,117.85 240.10,117.95 239.10,118.06 238.10,118.17 237.10,118.28 236.10,118.39 235.10,118.49 234.10,118.59 233.10,118.68 232.10,118.78 231.10,118.87 230.10,118.97 229.10,119.06 228.10,119.14 227.10,119.23 226.10,119.31 225.10,119.38 224.10,119.44 223.10,119.50 222.10,119.56 221.10,119.62 220.10,119.67 219.10,119.72 218.10,119.77 217.10,119.81 216.10,119.85 215.10,119.89 214.10,119.92 213.10,119.95" fill="#fff"/>
<rect x="213.10" y="96.20" width="26.80" height="3.05" fill="#fff"/>
<rect x="213.10" y="112.45" width="26.80" height="2.95" fill="#fff"/>
</g>
<path d="M213.40,42.00V169.20H353.45" fill="none" stroke="#000" stroke-width="0.6"/>
<path d="M213.10,161.35h3.2M213.10,147.45h3.2M213.10,133.55h3.2M213.10,119.65h3.2M213.10,105.75h3.2M213.10,91.85h3.2M213.10,77.95h3.2M213.10,64.05h3.2M213.10,50.15h3.2M240.50,169.20v-2.8M268.20,169.20v-2.8M295.90,169.20v-2.8M323.60,169.20v-2.8M351.30,169.20v-2.8" stroke="#000" stroke-width="0.8" fill="none"/>
<path d="M213.10,166.91h1.5M213.10,164.13h1.5M213.10,158.57h1.5M213.10,155.79h1.5M213.10,153.01h1.5M213.10,150.23h1.5M213.10,144.67h1.5M213.10,141.89h1.5M213.10,139.11h1.5M213.10,136.33h1.5M213.10,130.77h1.5M213.10,127.99h1.5M213.10,125.21h1.5M213.10,122.43h1.5M213.10,116.87h1.5M213.10,114.09h1.5M213.10,111.31h1.5M213.10,108.53h1.5M213.10,102.97h1.5M213.10,100.19h1.5M213.10,97.41h1.5M213.10,94.63h1.5M213.10,89.07h1.5M213.10,86.29h1.5M213.10,83.51h1.5M213.10,80.73h1.5M213.10,75.17h1.5M213.10,72.39h1.5M213.10,69.61h1.5M213.10,66.83h1.5M213.10,61.27h1.5M213.10,58.49h1.5M213.10,55.71h1.5M213.10,52.93h1.5M213.10,47.37h1.5M213.10,44.59h1.5M213.10,41.81h1.5M215.57,169.20v-1.3M218.34,169.20v-1.3M221.11,169.20v-1.3M223.88,169.20v-1.3M226.65,169.20v-2.4M229.42,169.20v-1.3M232.19,169.20v-1.3M234.96,169.20v-1.3M237.73,169.20v-1.3M243.27,169.20v-1.3M246.04,169.20v-1.3M248.81,169.20v-1.3M251.58,169.20v-1.3M254.35,169.20v-2.4M257.12,169.20v-1.3M259.89,169.20v-1.3M262.66,169.20v-1.3M265.43,169.20v-1.3M270.97,169.20v-1.3M273.74,169.20v-1.3M276.51,169.20v-1.3M279.28,169.20v-1.3M282.05,169.20v-2.4M284.82,169.20v-1.3M287.59,169.20v-1.3M290.36,169.20v-1.3M293.13,169.20v-1.3M298.67,169.20v-1.3M301.44,169.20v-1.3M304.21,169.20v-1.3M306.98,169.20v-1.3M309.75,169.20v-2.4M312.52,169.20v-1.3M315.29,169.20v-1.3M318.06,169.20v-1.3M320.83,169.20v-1.3M326.37,169.20v-1.3M329.14,169.20v-1.3M331.91,169.20v-1.3M334.68,169.20v-1.3M337.45,169.20v-2.4M340.22,169.20v-1.3M342.99,169.20v-1.3M345.76,169.20v-1.3M348.53,169.20v-1.3" stroke="#000" stroke-width="0.45" stroke-opacity="0.4" fill="none"/>
<text x="211.50" y="51.85" text-anchor="end" class="tk">200</text>
<text x="211.50" y="79.65" text-anchor="end" class="tk">100</text>
<text x="211.50" y="107.45" text-anchor="end" class="tk">0</text>
<text x="211.50" y="135.25" text-anchor="end" class="tk">−100</text>
<text x="211.50" y="163.05" text-anchor="end" class="tk">−200</text>
<text x="240.50" y="174.30" text-anchor="middle" class="tk">0</text>
<text x="268.20" y="174.30" text-anchor="middle" class="tk">100</text>
<text x="295.90" y="174.30" text-anchor="middle" class="tk">200</text>
<text x="323.60" y="174.30" text-anchor="middle" class="tk">300</text>
<text x="351.30" y="174.30" text-anchor="middle" class="tk">400</text>
<text x="283.28" y="179.90" text-anchor="middle" class="al"><tspan font-style="italic">x</tspan> (mm)</text>
<text transform="translate(201.60,105.75) rotate(-90)" text-anchor="middle" class="al"><tspan font-style="italic">y</tspan> (mm)</text>
<text x="275.10" y="196.90" text-anchor="middle" class="sl">(<tspan font-weight="bold">b</tspan>)</text>
<g clip-path="url(#clipc)">
<rect x="403.10" y="42.00" width="140.35" height="127.20" fill="#0000ff"/>
<polygon points="429.90,94.30 431.90,94.42 433.90,94.52 435.90,94.60 437.90,94.65 439.90,94.69 441.90,94.69 443.90,94.57 445.90,94.32 447.90,93.99 449.90,93.63 451.90,93.28 453.90,92.93 455.90,92.52 457.90,92.05 459.90,91.52 461.90,90.92 463.90,90.27 465.90,89.58 467.90,88.86 469.90,88.13 471.90,87.39 473.90,86.67 475.90,85.95 477.90,85.22 479.90,84.47 481.90,83.70 483.90,82.94 485.90,82.17 487.90,81.40 489.90,80.63 491.90,79.87 493.90,79.11 495.90,78.35 497.90,77.59 499.90,76.83 501.90,76.07 503.90,75.30 505.90,74.54 507.90,73.77 509.90,72.99 511.90,72.21 513.90,71.43 515.90,70.65 517.90,69.85 519.90,69.06 521.90,68.26 523.90,67.46 525.90,66.66 527.90,65.85 529.90,65.04 531.90,64.23 533.90,63.41 535.90,62.59 537.90,61.77 539.90,60.94 541.90,60.11 543.95,59.26 543.95,100.95 541.90,101.22 539.90,101.48 537.90,101.74 535.90,102.00 533.90,102.26 531.90,102.53 529.90,102.79 527.90,103.06 525.90,103.33 523.90,103.60 521.90,103.86 519.90,104.13 517.90,104.41 515.90,104.68 513.90,104.95 511.90,105.23 509.90,105.52 507.90,105.81 505.90,106.11 503.90,106.40 501.90,106.70 499.90,106.99 497.90,107.27 495.90,107.55 493.90,107.81 491.90,108.07 489.90,108.31 487.90,108.55 485.90,108.78 483.90,109.01 481.90,109.23 479.90,109.44 477.90,109.63 475.90,109.82 473.90,109.98 471.90,110.12 469.90,110.23 467.90,110.33 465.90,110.42 463.90,110.53 461.90,110.65 459.90,110.81 457.90,111.05 455.90,111.38 453.90,111.71 451.90,111.99 449.90,112.20 447.90,112.39 445.90,112.57 443.90,112.73 441.90,112.85 439.90,112.95 437.90,113.03 435.90,113.09 433.90,113.10 431.90,113.07 429.90,113.00" fill="#0066ff"/>
<polygon points="429.90,95.37 431.90,95.46 433.90,95.53 435.90,95.57 437.90,95.59 439.90,95.60 441.90,95.58 443.90,95.45 445.90,95.21 447.90,94.90 449.90,94.56 451.90,94.22 453.90,93.86 455.90,93.47 457.90,93.04 459.90,92.54 461.90,91.99 463.90,91.40 465.90,90.77 467.90,90.11 469.90,89.44 471.90,88.76 473.90,88.09 475.90,87.43 477.90,86.74 479.90,86.04 481.90,85.32 483.90,84.60 485.90,83.88 487.90,83.16 489.90,82.44 491.90,81.73 493.90,81.03 495.90,80.32 497.90,79.61 499.90,78.91 501.90,78.20 503.90,77.49 505.90,76.79 507.90,76.08 509.90,75.37 511.90,74.65 513.90,73.94 515.90,73.22 517.90,72.50 519.90,71.78 521.90,71.05 523.90,70.33 525.90,69.60 527.90,68.87 529.90,68.14 531.90,67.41 533.90,66.68 535.90,65.94 537.90,65.21 539.90,64.47 541.90,63.73 543.95,62.97 543.95,98.02 541.90,98.33 539.90,98.62 537.90,98.92 535.90,99.21 533.90,99.52 531.90,99.82 529.90,100.12 527.90,100.43 525.90,100.73 523.90,101.04 521.90,101.35 519.90,101.67 517.90,101.98 515.90,102.29 513.90,102.61 511.90,102.94 509.90,103.28 507.90,103.62 505.90,103.96 503.90,104.31 501.90,104.65 499.90,105.00 497.90,105.33 495.90,105.66 493.90,105.97 491.90,106.28 489.90,106.56 487.90,106.84 485.90,107.11 483.90,107.37 481.90,107.63 479.90,107.88 477.90,108.11 475.90,108.33 473.90,108.56 471.90,108.78 469.90,109.00 467.90,109.23 465.90,109.44 463.90,109.65 461.90,109.89 459.90,110.14 457.90,110.46 455.90,110.83 453.90,111.20 451.90,111.51 449.90,111.76 447.90,112.01 445.90,112.23 443.90,112.42 441.90,112.58 439.90,112.69 437.90,112.80 435.90,112.87 433.90,112.91 431.90,112.93 429.90,112.92" fill="#00ccff"/>
<polygon points="429.90,96.22 431.90,96.29 433.90,96.33 435.90,96.35 437.90,96.34 439.90,96.33 441.90,96.29 443.90,96.15 445.90,95.92 447.90,95.62 449.90,95.29 451.90,94.96 453.90,94.61 455.90,94.23 457.90,93.82 459.90,93.36 461.90,92.85 463.90,92.29 465.90,91.71 467.90,91.10 469.90,90.47 471.90,89.85 473.90,89.22 475.90,88.60 477.90,87.95 479.90,87.28 481.90,86.61 483.90,85.92 485.90,85.24 487.90,84.56 489.90,83.88 491.90,83.21 493.90,82.55 495.90,81.89 497.90,81.22 499.90,80.56 501.90,79.90 503.90,79.24 505.90,78.57 507.90,77.91 509.90,77.25 511.90,76.59 513.90,75.92 515.90,75.26 517.90,74.60 519.90,73.93 521.90,73.27 523.90,72.60 525.90,71.94 527.90,71.27 529.90,70.61 531.90,69.94 533.90,69.27 535.90,68.61 537.90,67.94 539.90,67.27 541.90,66.61 543.95,65.92 543.95,95.59 541.90,95.92 539.90,96.25 537.90,96.57 535.90,96.90 533.90,97.23 531.90,97.57 529.90,97.90 527.90,98.24 525.90,98.58 523.90,98.93 521.90,99.27 519.90,99.62 517.90,99.97 515.90,100.32 513.90,100.67 511.90,101.04 509.90,101.42 507.90,101.80 505.90,102.19 503.90,102.57 501.90,102.96 499.90,103.35 497.90,103.72 495.90,104.09 493.90,104.45 491.90,104.79 489.90,105.11 487.90,105.42 485.90,105.72 483.90,106.01 481.90,106.30 479.90,106.58 477.90,106.85 475.90,107.11 473.90,107.38 471.90,107.67 469.90,107.99 467.90,108.31 465.90,108.62 463.90,108.93 461.90,109.25 459.90,109.58 457.90,109.96 455.90,110.37 453.90,110.77 451.90,111.11 449.90,111.41 447.90,111.68 445.90,111.94 443.90,112.16 441.90,112.35 439.90,112.49 437.90,112.60 435.90,112.69 433.90,112.76 431.90,112.81 429.90,112.84" fill="#00ffcc"/>
<polygon points="429.90,96.85 431.90,96.90 433.90,96.93 435.90,96.92 437.90,96.90 439.90,96.87 441.90,96.81 443.90,96.67 445.90,96.45 447.90,96.16 449.90,95.84 451.90,95.51 453.90,95.17 455.90,94.80 457.90,94.40 459.90,93.96 461.90,93.48 463.90,92.96 465.90,92.41 467.90,91.84 469.90,91.25 471.90,90.65 473.90,90.06 475.90,89.47 477.90,88.85 479.90,88.21 481.90,87.56 483.90,86.91 485.90,86.25 487.90,85.60 489.90,84.95 491.90,84.32 493.90,83.69 495.90,83.05 497.90,82.42 499.90,81.79 501.90,81.16 503.90,80.53 505.90,79.91 507.90,79.28 509.90,78.65 511.90,78.03 513.90,77.41 515.90,76.78 517.90,76.16 519.90,75.54 521.90,74.92 523.90,74.30 525.90,73.68 527.90,73.06 529.90,72.44 531.90,71.83 533.90,71.21 535.90,70.59 537.90,69.98 539.90,69.37 541.90,68.75 543.95,68.12 543.95,93.30 541.90,93.66 539.90,94.01 537.90,94.37 535.90,94.72 533.90,95.08 531.90,95.45 529.90,95.81 527.90,96.18 525.90,96.55 523.90,96.93 521.90,97.31 519.90,97.69 517.90,98.07 515.90,98.45 513.90,98.84 511.90,99.25 509.90,99.66 507.90,100.08 505.90,100.51 503.90,100.94 501.90,101.36 499.90,101.79 497.90,102.21 495.90,102.61 493.90,103.01 491.90,103.39 489.90,103.74 487.90,104.08 485.90,104.41 483.90,104.73 481.90,105.05 479.90,105.36 477.90,105.65 475.90,105.95 473.90,106.26 471.90,106.62 469.90,107.03 467.90,107.45 465.90,107.85 463.90,108.25 461.90,108.65 459.90,109.06 457.90,109.49 455.90,109.94 453.90,110.37 451.90,110.74 449.90,111.07 447.90,111.38 445.90,111.67 443.90,111.92 441.90,112.13 439.90,112.29 437.90,112.42 435.90,112.53 433.90,112.61 431.90,112.70 429.90,112.78" fill="#00ff66"/>
<polygon points="429.90,97.34 431.90,97.37 433.90,97.38 435.90,97.36 437.90,97.33 439.90,97.28 441.90,97.21 443.90,97.07 445.90,96.85 447.90,96.57 449.90,96.26 451.90,95.93 453.90,95.59 455.90,95.23 457.90,94.85 459.90,94.43 461.90,93.97 463.90,93.47 465.90,92.95 467.90,92.40 469.90,91.84 471.90,91.27 473.90,90.71 475.90,90.13 477.90,89.54 479.90,88.92 481.90,88.30 483.90,87.66 485.90,87.03 487.90,86.40 489.90,85.77 491.90,85.16 493.90,84.56 495.90,83.95 497.90,83.34 499.90,82.73 501.90,82.13 503.90,81.53 505.90,80.93 507.90,80.33 509.90,79.73 511.90,79.13 513.90,78.54 515.90,77.95 517.90,77.36 519.90,76.77 521.90,76.19 523.90,75.60 525.90,75.02 527.90,74.43 529.90,73.85 531.90,73.27 533.90,72.69 535.90,72.11 537.90,71.54 539.90,70.96 541.90,70.39 543.95,69.81 543.95,91.20 541.90,91.58 539.90,91.96 537.90,92.34 535.90,92.72 533.90,93.11 531.90,93.50 529.90,93.90 527.90,94.29 525.90,94.69 523.90,95.10 521.90,95.50 519.90,95.92 517.90,96.33 515.90,96.74 513.90,97.17 511.90,97.60 509.90,98.05 507.90,98.51 505.90,98.97 503.90,99.43 501.90,99.90 499.90,100.36 497.90,100.81 495.90,101.26 493.90,101.69 491.90,102.10 489.90,102.49 487.90,102.86 485.90,103.21 483.90,103.56 481.90,103.90 479.90,104.24 477.90,104.56 475.90,104.89 473.90,105.24 471.90,105.67 469.90,106.15 467.90,106.66 465.90,107.15 463.90,107.62 461.90,108.10 459.90,108.58 457.90,109.06 455.90,109.54 453.90,110.00 451.90,110.40 449.90,110.75 447.90,111.10 445.90,111.42 443.90,111.70 441.90,111.94 439.90,112.11 437.90,112.25 435.90,112.37 433.90,112.48 431.90,112.60 429.90,112.72" fill="#00ff00"/>
<polygon points="429.90,97.85 431.90,97.87 433.90,97.86 435.90,97.83 437.90,97.78 439.90,97.72 441.90,97.64 443.90,97.49 445.90,97.27 447.90,97.00 449.90,96.70 451.90,96.38 453.90,96.04 455.90,95.69 457.90,95.32 459.90,94.92 461.90,94.48 463.90,94.01 465.90,93.52 467.90,93.00 469.90,92.47 471.90,91.93 473.90,91.39 475.90,90.84 477.90,90.27 479.90,89.68 481.90,89.07 483.90,88.46 485.90,87.85 487.90,87.24 489.90,86.64 491.90,86.06 493.90,85.48 495.90,84.89 497.90,84.31 499.90,83.73 501.90,83.16 503.90,82.58 505.90,82.01 507.90,81.44 509.90,80.87 511.90,80.30 513.90,79.74 515.90,79.19 517.90,78.63 519.90,78.08 521.90,77.53 523.90,76.98 525.90,76.43 527.90,75.88 529.90,75.34 531.90,74.80 533.90,74.26 535.90,73.72 537.90,73.19 539.90,72.66 541.90,72.13 543.95,71.59 543.95,89.16 541.90,89.57 539.90,89.97 537.90,90.38 535.90,90.79 533.90,91.20 531.90,91.62 529.90,92.04 527.90,92.47 525.90,92.89 523.90,93.33 521.90,93.76 519.90,94.20 517.90,94.64 515.90,95.09 513.90,95.54 511.90,96.01 509.90,96.49 507.90,96.98 505.90,97.48 503.90,97.98 501.90,98.48 499.90,98.98 497.90,99.47 495.90,99.95 493.90,100.41 491.90,100.85 489.90,101.28 487.90,101.67 485.90,102.05 483.90,102.42 481.90,102.79 479.90,103.15 477.90,103.50 475.90,103.86 473.90,104.26 471.90,104.74 469.90,105.30 467.90,105.90 465.90,106.47 463.90,107.01 461.90,107.57 459.90,108.12 457.90,108.65 455.90,109.16 453.90,109.64 451.90,110.07 449.90,110.45 447.90,110.83 445.90,111.18 443.90,111.49 441.90,111.74 439.90,111.94 437.90,112.09 435.90,112.22 433.90,112.35 431.90,112.50 429.90,112.66" fill="#66ff00"/>
<polygon points="429.90,98.26 431.90,98.27 433.90,98.25 435.90,98.20 437.90,98.14 439.90,98.06 441.90,97.98 443.90,97.83 445.90,97.61 447.90,97.35 449.90,97.05 451.90,96.73 453.90,96.40 455.90,96.05 457.90,95.69 459.90,95.31 461.90,94.89 463.90,94.44 465.90,93.97 467.90,93.47 469.90,92.97 471.90,92.45 473.90,91.93 475.90,91.40 477.90,90.85 479.90,90.28 481.90,89.69 483.90,89.10 485.90,88.50 487.90,87.91 489.90,87.34 491.90,86.77 493.90,86.21 495.90,85.65 497.90,85.08 499.90,84.53 501.90,83.97 503.90,83.42 505.90,82.86 507.90,82.32 509.90,81.77 511.90,81.23 513.90,80.70 515.90,80.17 517.90,79.64 519.90,79.11 521.90,78.59 523.90,78.07 525.90,77.55 527.90,77.04 529.90,76.52 531.90,76.01 533.90,75.51 535.90,75.00 537.90,74.50 539.90,74.01 541.90,73.51 543.95,73.01 543.95,87.23 541.90,87.67 539.90,88.09 537.90,88.52 535.90,88.95 533.90,89.39 531.90,89.83 529.90,90.28 527.90,90.73 525.90,91.19 523.90,91.64 521.90,92.11 519.90,92.58 517.90,93.05 515.90,93.52 513.90,94.00 511.90,94.50 509.90,95.01 507.90,95.54 505.90,96.07 503.90,96.60 501.90,97.14 499.90,97.67 497.90,98.19 495.90,98.70 493.90,99.20 491.90,99.67 489.90,100.12 487.90,100.55 485.90,100.95 483.90,101.34 481.90,101.74 479.90,102.13 477.90,102.50 475.90,102.88 473.90,103.32 471.90,103.86 469.90,104.50 467.90,105.17 465.90,105.82 463.90,106.44 461.90,107.07 459.90,107.68 457.90,108.26 455.90,108.80 453.90,109.30 451.90,109.75 449.90,110.17 447.90,110.57 445.90,110.95 443.90,111.29 441.90,111.56 439.90,111.77 437.90,111.93 435.90,112.08 433.90,112.23 431.90,112.41 429.90,112.60" fill="#ccff00"/>
<polygon points="429.90,98.69 431.90,98.69 433.90,98.65 435.90,98.60 437.90,98.52 439.90,98.43 441.90,98.33 443.90,98.18 445.90,97.97 447.90,97.72 449.90,97.42 451.90,97.11 453.90,96.78 455.90,96.44 457.90,96.09 459.90,95.73 461.90,95.33 463.90,94.90 465.90,94.45 467.90,93.98 469.90,93.49 471.90,93.00 473.90,92.51 475.90,92.00 477.90,91.46 479.90,90.91 481.90,90.34 483.90,89.77 485.90,89.19 487.90,88.62 489.90,88.07 491.90,87.52 493.90,86.98 495.90,86.44 497.90,85.90 499.90,85.37 501.90,84.83 503.90,84.30 505.90,83.77 507.90,83.25 509.90,82.73 511.90,82.22 513.90,81.71 515.90,81.21 517.90,80.71 519.90,80.21 521.90,79.72 523.90,79.23 525.90,78.74 527.90,78.26 529.90,77.78 531.90,77.30 533.90,76.83 535.90,76.36 537.90,75.89 539.90,75.43 541.90,74.97 543.95,74.51 543.95,85.56 541.90,86.01 539.90,86.46 537.90,86.91 535.90,87.36 533.90,87.82 531.90,88.29 529.90,88.75 527.90,89.23 525.90,89.71 523.90,90.19 521.90,90.68 519.90,91.17 517.90,91.66 515.90,92.16 513.90,92.67 511.90,93.19 509.90,93.73 507.90,94.28 505.90,94.84 503.90,95.41 501.90,95.97 499.90,96.53 497.90,97.08 495.90,97.62 493.90,98.15 491.90,98.65 489.90,99.13 487.90,99.57 485.90,100.00 483.90,100.41 481.90,100.83 479.90,101.23 477.90,101.63 475.90,102.04 473.90,102.51 471.90,103.09 469.90,103.80 467.90,104.54 465.90,105.26 463.90,105.94 461.90,106.63 459.90,107.29 457.90,107.91 455.90,108.48 453.90,109.00 451.90,109.48 449.90,109.92 447.90,110.35 445.90,110.75 443.90,111.11 441.90,111.41 439.90,111.63 437.90,111.80 435.90,111.95 433.90,112.13 431.90,112.33 429.90,112.55" fill="#ffcc00"/>
<polygon points="429.90,99.10 431.90,99.08 433.90,99.04 435.90,98.97 437.90,98.88 439.90,98.78 441.90,98.67 443.90,98.52 445.90,98.31 447.90,98.06 449.90,97.78 451.90,97.46 453.90,97.14 455.90,96.80 457.90,96.47 459.90,96.12 461.90,95.73 463.90,95.33 465.90,94.90 467.90,94.45 469.90,93.99 471.90,93.52 473.90,93.05 475.90,92.56 477.90,92.04 479.90,91.51 481.90,90.96 483.90,90.40 485.90,89.85 487.90,89.29 489.90,88.76 491.90,88.23 493.90,87.71 495.90,87.19 497.90,86.68 499.90,86.16 501.90,85.65 503.90,85.14 505.90,84.63 507.90,84.13 509.90,83.64 511.90,83.15 513.90,82.66 515.90,82.19 517.90,81.71 519.90,81.25 521.90,80.78 523.90,80.32 525.90,79.86 527.90,79.41 529.90,78.96 531.90,78.51 533.90,78.07 535.90,77.64 537.90,77.21 539.90,76.78 541.90,76.36 543.95,75.92 543.95,83.71 541.90,84.19 539.90,84.66 537.90,85.13 535.90,85.61 533.90,86.09 531.90,86.58 529.90,87.07 527.90,87.57 525.90,88.07 523.90,88.58 521.90,89.10 519.90,89.61 517.90,90.14 515.90,90.66 513.90,91.20 511.90,91.75 509.90,92.32 507.90,92.90 505.90,93.50 503.90,94.09 501.90,94.69 499.90,95.28 497.90,95.86 495.90,96.43 493.90,96.99 491.90,97.52 489.90,98.02 487.90,98.50 485.90,98.94 483.90,99.38 481.90,99.82 479.90,100.25 477.90,100.67 475.90,101.11 473.90,101.62 471.90,102.25 469.90,103.03 467.90,103.85 465.90,104.64 463.90,105.39 461.90,106.15 459.90,106.87 457.90,107.54 455.90,108.13 453.90,108.68 451.90,109.18 449.90,109.65 447.90,110.11 445.90,110.54 443.90,110.92 441.90,111.23 439.90,111.47 437.90,111.65 435.90,111.82 433.90,112.01 431.90,112.24 429.90,112.50" fill="#ff6600"/>
<polygon points="429.90,99.30 431.40,99.30 432.90,99.30 434.40,99.30 435.90,99.30 437.40,99.30 438.90,99.30 440.40,99.30 441.90,99.28 443.40,99.21 444.90,99.08 446.40,98.91 447.90,98.72 449.40,98.51 450.90,98.31 452.40,98.13 453.90,97.93 455.40,97.71 456.90,97.49 458.40,97.25 459.90,97.02 461.40,96.77 462.90,96.52 464.40,96.25 465.90,95.98 467.40,95.70 468.90,95.43 470.40,95.16 471.90,94.89 473.40,94.63 474.90,94.38 476.40,94.14 477.90,93.89 479.40,93.65 480.90,93.41 482.40,93.17 483.90,92.93 485.40,92.70 486.90,92.47 488.40,92.24 489.90,92.01 490.00,92.00 505.30,88.90 490.00,93.70 489.90,93.73 488.40,94.20 486.90,94.67 485.40,95.14 483.90,95.61 482.40,96.08 480.90,96.54 479.40,96.99 477.90,97.45 476.40,97.91 474.90,98.38 473.40,98.87 471.90,99.37 470.40,99.87 468.90,100.39 467.40,100.91 465.90,101.45 464.40,102.00 462.90,102.56 461.40,103.14 459.90,103.74 458.40,104.40 456.90,105.12 455.40,105.85 453.90,106.56 452.40,107.18 450.90,107.71 449.40,108.20 447.90,108.66 446.40,109.09 444.90,109.49 443.40,109.86 441.90,110.19 440.40,110.50 438.90,110.76 437.40,110.99 435.90,111.21 434.40,111.43 432.90,111.68 431.40,111.94 429.90,112.20" fill="#ff0000"/>
<rect x="403.10" y="99.25" width="28.30" height="13.3" fill="#ff0000"/>
<polygon points="452.50,116.50 461.00,115.80 468.90,115.40 473.80,120.00 476.50,125.40 477.10,130.40 474.90,134.70 474.00,133.00 473.30,127.60 470.50,122.70 466.20,119.50 459.60,118.00" fill="#0066ff" stroke="#0066ff" stroke-width="0.3" stroke-linejoin="round"/>
<polygon points="403.10,92.05 404.10,92.08 405.10,92.11 406.10,92.15 407.10,92.19 408.10,92.23 409.10,92.28 410.10,92.33 411.10,92.38 412.10,92.44 413.10,92.50 414.10,92.56 415.10,92.62 416.10,92.69 417.10,92.77 418.10,92.86 419.10,92.94 420.10,93.03 421.10,93.13 422.10,93.22 423.10,93.32 424.10,93.41 425.10,93.51 426.10,93.61 427.10,93.72 428.10,93.83 429.10,93.94 430.10,94.05 431.10,94.15 432.10,94.26 432.40,94.29 432.40,96.75 403.10,96.75" fill="#00ccff"/>
<polygon points="411.90,92.43 412.90,92.49 413.90,92.54 414.90,92.61 415.90,92.68 416.90,92.76 417.90,92.84 418.90,92.93 419.90,93.02 420.90,93.11 421.90,93.20 422.90,93.30 423.90,93.39 424.90,93.49 425.90,93.59 426.90,93.70 427.90,93.80 428.90,93.92 429.90,94.03 430.90,94.13 431.90,94.24 432.40,94.29 432.40,96.75 411.90,96.75" fill="#00ccff"/>
<polygon points="420.90,93.11 421.90,93.20 422.90,93.30 423.90,93.39 424.90,93.49 425.90,93.59 426.90,93.70 427.90,93.80 428.90,93.92 429.90,94.03 430.90,94.13 431.90,94.24 432.40,94.29 432.40,96.75 420.90,96.75" fill="#00ffcc"/>
<polygon points="426.90,93.70 427.90,93.80 428.90,93.92 429.90,94.03 430.90,94.13 431.90,94.24 432.40,94.29 432.40,96.75 426.90,96.75" fill="#00ff66"/>
<polygon points="429.90,96.15 429.90,99.25 436.40,97.75" fill="#0000ff"/>
<polygon points="403.10,77.45 474.20,77.45 474.20,77.45 474.10,77.54 473.10,78.39 472.10,79.18 471.10,79.89 470.10,80.57 469.10,81.21 468.10,81.84 467.10,82.46 466.10,83.06 465.10,83.65 464.10,84.23 463.10,84.80 462.10,85.36 461.10,85.90 460.10,86.43 459.10,86.96 458.10,87.48 457.10,87.99 456.10,88.51 455.10,89.04 454.10,89.56 453.10,90.08 452.10,90.57 451.10,91.04 450.10,91.50 449.10,91.95 448.10,92.38 447.10,92.78 446.10,93.15 445.10,93.48 444.10,93.81 443.10,94.11 442.10,94.34 441.10,94.49 440.10,94.59 439.10,94.67 438.10,94.70 437.10,94.67 436.10,94.60 435.10,94.51 434.10,94.44 433.10,94.35 432.10,94.26 431.10,94.15 430.10,94.05 429.10,93.94 428.10,93.83 427.10,93.72 426.10,93.61 425.10,93.51 424.10,93.41 423.10,93.32 422.10,93.22 421.10,93.13 420.10,93.03 419.10,92.94 418.10,92.86 417.10,92.77 416.10,92.69 415.10,92.62 414.10,92.56 413.10,92.50 412.10,92.44 411.10,92.38 410.10,92.33 409.10,92.28 408.10,92.23 407.10,92.19 406.10,92.15 405.10,92.11 404.10,92.08 403.10,92.05" fill="#fff"/>
<polygon points="403.10,134.55 474.20,134.55 474.20,134.55 474.10,134.46 473.10,133.61 472.10,132.82 471.10,132.11 470.10,131.43 469.10,130.79 468.10,130.16 467.10,129.54 466.10,128.94 465.10,128.35 464.10,127.77 463.10,127.20 462.10,126.64 461.10,126.10 460.10,125.57 459.10,125.04 458.10,124.52 457.10,124.01 456.10,123.49 455.10,122.96 454.10,122.44 453.10,121.92 452.10,121.43 451.10,120.96 450.10,120.50 449.10,120.05 448.10,119.62 447.10,119.22 446.10,118.85 445.10,118.52 444.10,118.19 443.10,117.89 442.10,117.66 441.10,117.51 440.10,117.41 439.10,117.33 438.10,117.30 437.10,117.33 436.10,117.40 435.10,117.49 434.10,117.56 433.10,117.65 432.10,117.74 431.10,117.85 430.10,117.95 429.10,118.06 428.10,118.17 427.10,118.28 426.10,118.39 425.10,118.49 424.10,118.59 423.10,118.68 422.10,118.78 421.10,118.87 420.10,118.97 419.10,119.06 418.10,119.14 417.10,119.23 416.10,119.31 415.10,119.38 414.10,119.44 413.10,119.50 412.10,119.56 411.10,119.62 410.10,119.67 409.10,119.72 408.10,119.77 407.10,119.81 406.10,119.85 405.10,119.89 404.10,119.92 403.10,119.95" fill="#fff"/>
<rect x="403.10" y="96.20" width="26.80" height="3.05" fill="#fff"/>
<rect x="403.10" y="112.45" width="26.80" height="2.95" fill="#fff"/>
</g>
<path d="M403.40,42.00V169.20H543.45" fill="none" stroke="#000" stroke-width="0.6"/>
<path d="M403.10,161.35h3.2M403.10,147.45h3.2M403.10,133.55h3.2M403.10,119.65h3.2M403.10,105.75h3.2M403.10,91.85h3.2M403.10,77.95h3.2M403.10,64.05h3.2M403.10,50.15h3.2M430.50,169.20v-2.8M458.20,169.20v-2.8M485.90,169.20v-2.8M513.60,169.20v-2.8M541.30,169.20v-2.8" stroke="#000" stroke-width="0.8" fill="none"/>
<path d="M403.10,166.91h1.5M403.10,164.13h1.5M403.10,158.57h1.5M403.10,155.79h1.5M403.10,153.01h1.5M403.10,150.23h1.5M403.10,144.67h1.5M403.10,141.89h1.5M403.10,139.11h1.5M403.10,136.33h1.5M403.10,130.77h1.5M403.10,127.99h1.5M403.10,125.21h1.5M403.10,122.43h1.5M403.10,116.87h1.5M403.10,114.09h1.5M403.10,111.31h1.5M403.10,108.53h1.5M403.10,102.97h1.5M403.10,100.19h1.5M403.10,97.41h1.5M403.10,94.63h1.5M403.10,89.07h1.5M403.10,86.29h1.5M403.10,83.51h1.5M403.10,80.73h1.5M403.10,75.17h1.5M403.10,72.39h1.5M403.10,69.61h1.5M403.10,66.83h1.5M403.10,61.27h1.5M403.10,58.49h1.5M403.10,55.71h1.5M403.10,52.93h1.5M403.10,47.37h1.5M403.10,44.59h1.5M403.10,41.81h1.5M405.57,169.20v-1.3M408.34,169.20v-1.3M411.11,169.20v-1.3M413.88,169.20v-1.3M416.65,169.20v-2.4M419.42,169.20v-1.3M422.19,169.20v-1.3M424.96,169.20v-1.3M427.73,169.20v-1.3M433.27,169.20v-1.3M436.04,169.20v-1.3M438.81,169.20v-1.3M441.58,169.20v-1.3M444.35,169.20v-2.4M447.12,169.20v-1.3M449.89,169.20v-1.3M452.66,169.20v-1.3M455.43,169.20v-1.3M460.97,169.20v-1.3M463.74,169.20v-1.3M466.51,169.20v-1.3M469.28,169.20v-1.3M472.05,169.20v-2.4M474.82,169.20v-1.3M477.59,169.20v-1.3M480.36,169.20v-1.3M483.13,169.20v-1.3M488.67,169.20v-1.3M491.44,169.20v-1.3M494.21,169.20v-1.3M496.98,169.20v-1.3M499.75,169.20v-2.4M502.52,169.20v-1.3M505.29,169.20v-1.3M508.06,169.20v-1.3M510.83,169.20v-1.3M516.37,169.20v-1.3M519.14,169.20v-1.3M521.91,169.20v-1.3M524.68,169.20v-1.3M527.45,169.20v-2.4M530.22,169.20v-1.3M532.99,169.20v-1.3M535.76,169.20v-1.3M538.53,169.20v-1.3" stroke="#000" stroke-width="0.45" stroke-opacity="0.4" fill="none"/>
<text x="401.50" y="51.85" text-anchor="end" class="tk">200</text>
<text x="401.50" y="79.65" text-anchor="end" class="tk">100</text>
<text x="401.50" y="107.45" text-anchor="end" class="tk">0</text>
<text x="401.50" y="135.25" text-anchor="end" class="tk">−100</text>
<text x="401.50" y="163.05" text-anchor="end" class="tk">−200</text>
<text x="430.50" y="174.30" text-anchor="middle" class="tk">0</text>
<text x="458.20" y="174.30" text-anchor="middle" class="tk">100</text>
<text x="485.90" y="174.30" text-anchor="middle" class="tk">200</text>
<text x="513.60" y="174.30" text-anchor="middle" class="tk">300</text>
<text x="541.30" y="174.30" text-anchor="middle" class="tk">400</text>
<text x="473.27" y="179.90" text-anchor="middle" class="al"><tspan font-style="italic">x</tspan> (mm)</text>
<text transform="translate(391.60,105.75) rotate(-90)" text-anchor="middle" class="al"><tspan font-style="italic">y</tspan> (mm)</text>
<text x="465.10" y="196.90" text-anchor="middle" class="sl">(<tspan font-weight="bold">c</tspan>)</text>
<g clip-path="url(#clipd)">
<rect x="19.10" y="203.50" width="139.95" height="127.20" fill="#0000ff"/>
<polygon points="45.90,255.80 47.90,255.90 49.90,256.00 51.90,256.10 53.90,256.21 55.90,256.30 57.90,256.25 59.90,256.06 61.90,255.74 63.90,255.31 65.90,254.80 67.90,254.24 69.90,253.64 71.90,253.04 73.90,252.41 75.90,251.64 77.90,250.74 79.90,249.74 81.90,248.69 83.90,247.62 85.90,246.57 87.90,245.56 89.90,244.64 91.90,243.74 93.90,242.86 95.90,241.99 97.90,241.12 99.90,240.26 101.90,239.42 103.90,238.57 105.90,237.73 107.90,236.90 109.90,236.08 111.90,235.27 113.90,234.46 115.90,233.65 117.90,232.85 119.90,232.05 121.90,231.26 123.90,230.46 125.90,229.66 127.90,228.85 129.90,228.04 131.90,227.23 133.90,226.41 135.90,225.60 137.90,224.78 139.90,223.96 141.90,223.15 143.90,222.33 145.90,221.51 147.90,220.69 149.90,219.87 151.90,219.05 153.90,218.22 155.90,217.40 157.90,216.58 159.55,215.90 159.55,257.45 157.90,257.80 155.90,258.23 153.90,258.66 151.90,259.08 149.90,259.50 147.90,259.91 145.90,260.33 143.90,260.74 141.90,261.14 139.90,261.55 137.90,261.95 135.90,262.35 133.90,262.74 131.90,263.13 129.90,263.52 127.90,263.90 125.90,264.29 123.90,264.67 121.90,265.04 119.90,265.41 117.90,265.78 115.90,266.15 113.90,266.51 111.90,266.87 109.90,267.23 107.90,267.58 105.90,267.93 103.90,268.28 101.90,268.61 99.90,268.95 97.90,269.28 95.90,269.61 93.90,269.93 91.90,270.25 89.90,270.57 87.90,270.90 85.90,271.24 83.90,271.59 81.90,271.95 79.90,272.29 77.90,272.60 75.90,272.88 73.90,273.10 71.90,273.26 69.90,273.40 67.90,273.52 65.90,273.64 63.90,273.74 61.90,273.83 59.90,273.90 57.90,273.96 55.90,274.01 53.90,274.04 51.90,274.06 49.90,274.10 47.90,274.29 45.90,274.60" fill="#0066ff"/>
<polygon points="45.90,256.87 47.90,256.94 49.90,257.00 51.90,257.05 53.90,257.10 55.90,257.13 57.90,257.05 59.90,256.84 61.90,256.51 63.90,256.08 65.90,255.59 67.90,255.04 69.90,254.47 71.90,253.90 73.90,253.31 75.90,252.60 77.90,251.79 79.90,250.90 81.90,249.96 83.90,249.01 85.90,248.07 87.90,247.16 89.90,246.32 91.90,245.49 93.90,244.68 95.90,243.86 97.90,243.05 99.90,242.25 101.90,241.46 103.90,240.67 105.90,239.88 107.90,239.11 109.90,238.34 111.90,237.58 113.90,236.83 115.90,236.08 117.90,235.33 119.90,234.58 121.90,233.84 123.90,233.09 125.90,232.35 127.90,231.60 129.90,230.85 131.90,230.09 133.90,229.34 135.90,228.59 137.90,227.83 139.90,227.08 141.90,226.33 143.90,225.57 145.90,224.82 147.90,224.06 149.90,223.31 151.90,222.56 153.90,221.80 155.90,221.05 157.90,220.30 159.55,219.67 159.55,254.61 157.90,254.96 155.90,255.40 153.90,255.83 151.90,256.27 149.90,256.70 147.90,257.14 145.90,257.58 143.90,258.01 141.90,258.45 139.90,258.89 137.90,259.32 135.90,259.76 133.90,260.19 131.90,260.62 129.90,261.06 127.90,261.49 125.90,261.94 123.90,262.38 121.90,262.83 119.90,263.29 117.90,263.74 115.90,264.18 113.90,264.63 111.90,265.07 109.90,265.49 107.90,265.91 105.90,266.32 103.90,266.72 101.90,267.10 99.90,267.47 97.90,267.84 95.90,268.22 93.90,268.61 91.90,268.99 89.90,269.37 87.90,269.76 85.90,270.17 83.90,270.58 81.90,271.00 79.90,271.41 77.90,271.81 75.90,272.17 73.90,272.48 71.90,272.71 69.90,272.90 67.90,273.07 65.90,273.23 63.90,273.38 61.90,273.51 59.90,273.64 57.90,273.74 55.90,273.81 53.90,273.85 51.90,273.89 49.90,273.95 47.90,274.17 45.90,274.53" fill="#00ccff"/>
<polygon points="45.90,257.72 47.90,257.77 49.90,257.79 51.90,257.80 53.90,257.81 55.90,257.79 57.90,257.69 59.90,257.46 61.90,257.12 63.90,256.70 65.90,256.21 67.90,255.68 69.90,255.13 71.90,254.58 73.90,254.02 75.90,253.36 77.90,252.62 79.90,251.81 81.90,250.97 83.90,250.11 85.90,249.26 87.90,248.43 89.90,247.65 91.90,246.88 93.90,246.12 95.90,245.35 97.90,244.59 99.90,243.83 101.90,243.08 103.90,242.33 105.90,241.59 107.90,240.86 109.90,240.14 111.90,239.42 113.90,238.71 115.90,238.00 117.90,237.29 119.90,236.59 121.90,235.89 123.90,235.18 125.90,234.48 127.90,233.78 129.90,233.08 131.90,232.37 133.90,231.66 135.90,230.96 137.90,230.26 139.90,229.55 141.90,228.85 143.90,228.15 145.90,227.45 147.90,226.74 149.90,226.04 151.90,225.34 153.90,224.64 155.90,223.95 157.90,223.25 159.55,222.67 159.55,252.25 157.90,252.61 155.90,253.05 153.90,253.49 151.90,253.94 149.90,254.39 147.90,254.84 145.90,255.30 143.90,255.75 141.90,256.21 139.90,256.68 137.90,257.14 135.90,257.61 133.90,258.07 131.90,258.54 129.90,259.01 127.90,259.49 125.90,259.99 123.90,260.49 121.90,261.00 119.90,261.52 117.90,262.04 115.90,262.55 113.90,263.06 111.90,263.57 109.90,264.06 107.90,264.53 105.90,264.99 103.90,265.42 101.90,265.84 99.90,266.24 97.90,266.65 95.90,267.07 93.90,267.50 91.90,267.94 89.90,268.38 87.90,268.82 85.90,269.28 83.90,269.75 81.90,270.21 79.90,270.68 77.90,271.15 75.90,271.59 73.90,271.96 71.90,272.25 69.90,272.49 67.90,272.70 65.90,272.90 63.90,273.08 61.90,273.25 59.90,273.41 57.90,273.55 55.90,273.65 53.90,273.70 51.90,273.75 49.90,273.83 47.90,274.08 45.90,274.48" fill="#00ffcc"/>
<polygon points="45.90,258.35 47.90,258.38 49.90,258.39 51.90,258.37 53.90,258.34 55.90,258.29 57.90,258.16 59.90,257.92 61.90,257.58 63.90,257.16 65.90,256.68 67.90,256.16 69.90,255.62 71.90,255.08 73.90,254.55 75.90,253.93 77.90,253.24 79.90,252.50 81.90,251.72 83.90,250.93 85.90,250.14 87.90,249.38 89.90,248.65 91.90,247.92 93.90,247.19 95.90,246.46 97.90,245.73 99.90,245.01 101.90,244.29 103.90,243.57 105.90,242.87 107.90,242.17 109.90,241.48 111.90,240.79 113.90,240.11 115.90,239.43 117.90,238.76 119.90,238.08 121.90,237.41 123.90,236.74 125.90,236.08 127.90,235.41 129.90,234.74 131.90,234.07 133.90,233.40 135.90,232.73 137.90,232.06 139.90,231.40 141.90,230.73 143.90,230.07 145.90,229.40 147.90,228.74 149.90,228.08 151.90,227.42 153.90,226.76 155.90,226.11 157.90,225.45 159.55,224.91 159.55,250.03 157.90,250.39 155.90,250.83 153.90,251.28 151.90,251.74 149.90,252.20 147.90,252.67 145.90,253.14 143.90,253.62 141.90,254.11 139.90,254.59 137.90,255.09 135.90,255.58 133.90,256.08 131.90,256.58 129.90,257.09 127.90,257.61 125.90,258.15 123.90,258.71 121.90,259.28 119.90,259.85 117.90,260.43 115.90,261.01 113.90,261.59 111.90,262.15 109.90,262.70 107.90,263.23 105.90,263.73 103.90,264.20 101.90,264.65 99.90,265.08 97.90,265.53 95.90,265.99 93.90,266.47 91.90,266.95 89.90,267.44 87.90,267.93 85.90,268.44 83.90,268.95 81.90,269.47 79.90,269.99 77.90,270.53 75.90,271.03 73.90,271.48 71.90,271.81 69.90,272.10 67.90,272.35 65.90,272.58 63.90,272.80 61.90,273.01 59.90,273.21 57.90,273.37 55.90,273.49 53.90,273.56 51.90,273.61 49.90,273.71 47.90,273.98 45.90,274.42" fill="#00ff66"/>
<polygon points="45.90,258.84 47.90,258.86 49.90,258.84 51.90,258.80 53.90,258.74 55.90,258.67 57.90,258.53 59.90,258.27 61.90,257.93 63.90,257.51 65.90,257.04 67.90,256.52 69.90,256.00 71.90,255.47 73.90,254.95 75.90,254.36 77.90,253.71 79.90,253.02 81.90,252.30 83.90,251.56 85.90,250.82 87.90,250.10 89.90,249.41 91.90,248.72 93.90,248.02 95.90,247.31 97.90,246.61 99.90,245.91 101.90,245.21 103.90,244.52 105.90,243.84 107.90,243.17 109.90,242.50 111.90,241.84 113.90,241.18 115.90,240.53 117.90,239.88 119.90,239.23 121.90,238.58 123.90,237.94 125.90,237.29 127.90,236.65 129.90,236.01 131.90,235.37 133.90,234.72 135.90,234.08 137.90,233.45 139.90,232.81 141.90,232.17 143.90,231.54 145.90,230.90 147.90,230.27 149.90,229.64 151.90,229.01 153.90,228.38 155.90,227.76 157.90,227.13 159.55,226.62 159.55,247.99 157.90,248.36 155.90,248.80 153.90,249.26 151.90,249.72 149.90,250.20 147.90,250.68 145.90,251.17 143.90,251.67 141.90,252.17 139.90,252.68 137.90,253.20 135.90,253.72 133.90,254.25 131.90,254.78 129.90,255.32 127.90,255.88 125.90,256.46 123.90,257.07 121.90,257.69 119.90,258.33 117.90,258.96 115.90,259.60 113.90,260.23 111.90,260.85 109.90,261.45 107.90,262.03 105.90,262.57 103.90,263.08 101.90,263.56 99.90,264.02 97.90,264.49 95.90,264.99 93.90,265.51 91.90,266.05 89.90,266.58 87.90,267.12 85.90,267.67 83.90,268.23 81.90,268.79 79.90,269.36 77.90,269.96 75.90,270.53 73.90,271.03 71.90,271.42 69.90,271.74 67.90,272.03 65.90,272.29 63.90,272.54 61.90,272.78 59.90,273.02 57.90,273.21 55.90,273.35 53.90,273.42 51.90,273.49 49.90,273.60 47.90,273.90 45.90,274.37" fill="#00ff00"/>
<polygon points="45.90,259.35 47.90,259.36 49.90,259.32 51.90,259.25 53.90,259.17 55.90,259.07 57.90,258.91 59.90,258.65 61.90,258.30 63.90,257.88 65.90,257.41 67.90,256.91 69.90,256.40 71.90,255.88 73.90,255.38 75.90,254.82 77.90,254.22 79.90,253.57 81.90,252.91 83.90,252.23 85.90,251.54 87.90,250.87 89.90,250.22 91.90,249.56 93.90,248.89 95.90,248.21 97.90,247.54 99.90,246.86 101.90,246.19 103.90,245.53 105.90,244.87 107.90,244.23 109.90,243.59 111.90,242.95 113.90,242.32 115.90,241.69 117.90,241.07 119.90,240.44 121.90,239.82 123.90,239.20 125.90,238.59 127.90,237.97 129.90,237.35 131.90,236.74 133.90,236.13 135.90,235.52 137.90,234.91 139.90,234.30 141.90,233.70 143.90,233.09 145.90,232.49 147.90,231.89 149.90,231.29 151.90,230.70 153.90,230.10 155.90,229.51 157.90,228.92 159.55,228.43 159.55,246.01 157.90,246.39 155.90,246.84 153.90,247.30 151.90,247.77 149.90,248.26 147.90,248.76 145.90,249.26 143.90,249.78 141.90,250.30 139.90,250.83 137.90,251.38 135.90,251.92 133.90,252.48 131.90,253.04 129.90,253.61 127.90,254.20 125.90,254.83 123.90,255.48 121.90,256.16 119.90,256.85 117.90,257.54 115.90,258.24 113.90,258.92 111.90,259.60 109.90,260.25 107.90,260.87 105.90,261.46 103.90,262.00 101.90,262.50 99.90,262.99 97.90,263.50 95.90,264.03 93.90,264.59 91.90,265.17 89.90,265.75 87.90,266.33 85.90,266.92 83.90,267.53 81.90,268.13 79.90,268.75 77.90,269.40 75.90,270.04 73.90,270.60 71.90,271.03 69.90,271.40 67.90,271.72 65.90,272.01 63.90,272.29 61.90,272.57 59.90,272.83 57.90,273.05 55.90,273.21 53.90,273.30 51.90,273.37 49.90,273.49 47.90,273.82 45.90,274.33" fill="#66ff00"/>
<polygon points="45.90,259.76 47.90,259.75 49.90,259.70 51.90,259.62 53.90,259.51 55.90,259.39 57.90,259.22 59.90,258.95 61.90,258.59 63.90,258.18 65.90,257.71 67.90,257.22 69.90,256.71 71.90,256.21 73.90,255.72 75.90,255.19 77.90,254.62 79.90,254.01 81.90,253.39 83.90,252.75 85.90,252.11 87.90,251.48 89.90,250.86 91.90,250.22 93.90,249.58 95.90,248.93 97.90,248.27 99.90,247.62 101.90,246.97 103.90,246.33 105.90,245.69 107.90,245.07 109.90,244.45 111.90,243.84 113.90,243.22 115.90,242.62 117.90,242.01 119.90,241.41 121.90,240.81 123.90,240.21 125.90,239.61 127.90,239.02 129.90,238.42 131.90,237.83 133.90,237.25 135.90,236.66 137.90,236.07 139.90,235.49 141.90,234.91 143.90,234.33 145.90,233.75 147.90,233.18 149.90,232.60 151.90,232.03 153.90,231.47 155.90,230.90 157.90,230.34 159.55,229.87 159.55,244.14 157.90,244.52 155.90,244.97 153.90,245.44 151.90,245.92 149.90,246.42 147.90,246.93 145.90,247.45 143.90,247.98 141.90,248.53 139.90,249.08 137.90,249.64 135.90,250.22 133.90,250.80 131.90,251.39 129.90,251.99 127.90,252.61 125.90,253.28 123.90,253.98 121.90,254.71 119.90,255.45 117.90,256.19 115.90,256.94 113.90,257.68 111.90,258.41 109.90,259.10 107.90,259.77 105.90,260.40 103.90,260.97 101.90,261.50 99.90,262.02 97.90,262.55 95.90,263.12 93.90,263.72 91.90,264.33 89.90,264.96 87.90,265.58 85.90,266.22 83.90,266.86 81.90,267.51 79.90,268.17 77.90,268.88 75.90,269.57 73.90,270.19 71.90,270.67 69.90,271.07 67.90,271.42 65.90,271.74 63.90,272.05 61.90,272.36 59.90,272.66 57.90,272.91 55.90,273.08 53.90,273.18 51.90,273.26 49.90,273.39 47.90,273.74 45.90,274.28" fill="#ccff00"/>
<polygon points="45.90,260.19 47.90,260.17 49.90,260.10 51.90,260.00 53.90,259.87 55.90,259.72 57.90,259.54 59.90,259.26 61.90,258.91 63.90,258.49 65.90,258.03 67.90,257.54 69.90,257.05 71.90,256.56 73.90,256.08 75.90,255.57 77.90,255.04 79.90,254.48 81.90,253.90 83.90,253.31 85.90,252.72 87.90,252.13 89.90,251.53 91.90,250.93 93.90,250.31 95.90,249.68 97.90,249.05 99.90,248.42 101.90,247.79 103.90,247.17 105.90,246.56 107.90,245.96 109.90,245.37 111.90,244.77 113.90,244.18 115.90,243.59 117.90,243.01 119.90,242.43 121.90,241.85 123.90,241.27 125.90,240.70 127.90,240.13 129.90,239.56 131.90,238.99 133.90,238.43 135.90,237.86 137.90,237.31 139.90,236.75 141.90,236.19 143.90,235.64 145.90,235.09 147.90,234.54 149.90,233.99 151.90,233.45 153.90,232.91 155.90,232.37 157.90,231.84 159.55,231.39 159.55,242.52 157.90,242.90 155.90,243.36 153.90,243.83 151.90,244.32 149.90,244.83 147.90,245.35 145.90,245.88 143.90,246.43 141.90,246.99 139.90,247.56 137.90,248.14 135.90,248.74 133.90,249.34 131.90,249.96 129.90,250.58 127.90,251.24 125.90,251.94 123.90,252.68 121.90,253.45 119.90,254.23 117.90,255.02 115.90,255.82 113.90,256.61 111.90,257.37 109.90,258.11 107.90,258.82 105.90,259.48 103.90,260.08 101.90,260.64 99.90,261.17 97.90,261.73 95.90,262.33 93.90,262.96 91.90,263.61 89.90,264.27 87.90,264.94 85.90,265.61 83.90,266.28 81.90,266.97 79.90,267.67 77.90,268.43 75.90,269.17 73.90,269.84 71.90,270.35 69.90,270.79 67.90,271.17 65.90,271.51 63.90,271.84 61.90,272.18 59.90,272.50 57.90,272.78 55.90,272.97 53.90,273.07 51.90,273.16 49.90,273.31 47.90,273.68 45.90,274.24" fill="#ffcc00"/>
<polygon points="45.90,260.60 47.90,260.57 49.90,260.49 51.90,260.36 53.90,260.21 55.90,260.04 57.90,259.84 59.90,259.56 61.90,259.20 63.90,258.79 65.90,258.33 67.90,257.85 69.90,257.36 71.90,256.89 73.90,256.42 75.90,255.94 77.90,255.44 79.90,254.92 81.90,254.39 83.90,253.84 85.90,253.29 87.90,252.74 89.90,252.17 91.90,251.60 93.90,251.00 95.90,250.40 97.90,249.79 99.90,249.18 101.90,248.57 103.90,247.97 105.90,247.38 107.90,246.80 109.90,246.23 111.90,245.65 113.90,245.08 115.90,244.52 117.90,243.95 119.90,243.39 121.90,242.83 123.90,242.28 125.90,241.72 127.90,241.17 129.90,240.63 131.90,240.08 133.90,239.54 135.90,239.00 137.90,238.47 139.90,237.93 141.90,237.40 143.90,236.88 145.90,236.35 147.90,235.83 149.90,235.31 151.90,234.79 153.90,234.27 155.90,233.76 157.90,233.25 159.55,232.83 159.55,240.73 157.90,241.11 155.90,241.57 153.90,242.05 151.90,242.55 149.90,243.07 147.90,243.60 145.90,244.15 143.90,244.71 141.90,245.29 139.90,245.88 137.90,246.49 135.90,247.11 133.90,247.74 131.90,248.38 129.90,249.03 127.90,249.72 125.90,250.46 123.90,251.24 121.90,252.06 119.90,252.89 117.90,253.74 115.90,254.58 113.90,255.42 111.90,256.23 109.90,257.02 107.90,257.77 105.90,258.47 103.90,259.10 101.90,259.68 99.90,260.24 97.90,260.82 95.90,261.45 93.90,262.12 91.90,262.82 89.90,263.52 87.90,264.22 85.90,264.93 83.90,265.65 81.90,266.37 79.90,267.12 77.90,267.93 75.90,268.73 73.90,269.44 71.90,270.01 69.90,270.47 67.90,270.88 65.90,271.26 63.90,271.62 61.90,271.98 59.90,272.34 57.90,272.64 55.90,272.84 53.90,272.96 51.90,273.05 49.90,273.21 47.90,273.61 45.90,274.20" fill="#ff6600"/>
<polygon points="45.90,260.90 47.40,260.89 48.90,260.87 50.40,260.83 51.90,260.78 53.40,260.73 54.90,260.67 56.40,260.60 57.90,260.52 59.40,260.40 60.90,260.26 62.40,260.09 63.90,259.90 65.40,259.70 66.90,259.48 68.40,259.26 69.90,259.03 71.40,258.80 72.90,258.57 74.40,258.33 75.90,258.08 77.40,257.81 78.90,257.53 80.40,257.24 81.90,256.94 83.40,256.63 84.90,256.31 86.40,255.99 87.90,255.66 89.40,255.33 90.90,255.00 92.40,254.65 93.90,254.30 95.40,253.94 96.90,253.57 98.40,253.19 99.90,252.81 101.40,252.41 102.90,252.01 104.40,251.60 105.50,251.30 120.00,247.50 105.50,254.00 104.40,254.42 102.90,254.99 101.40,255.57 99.90,256.16 98.40,256.75 96.90,257.34 95.40,257.93 93.90,258.53 92.40,259.13 90.90,259.74 89.40,260.37 87.90,261.02 86.40,261.70 84.90,262.39 83.40,263.09 81.90,263.79 80.40,264.48 78.90,265.20 77.40,265.93 75.90,266.65 74.40,267.32 72.90,267.93 71.40,268.46 69.90,268.96 68.40,269.43 66.90,269.87 65.40,270.26 63.90,270.62 62.40,270.95 60.90,271.26 59.40,271.54 57.90,271.79 56.40,272.00 54.90,272.15 53.40,272.26 51.90,272.38 50.40,272.54 48.90,272.84 47.40,273.36 45.90,274.00" fill="#ff0000"/>
<rect x="19.10" y="260.75" width="28.30" height="13.3" fill="#ff0000"/>
<polygon points="69.60,277.90 77.80,276.30 85.40,276.00 89.80,279.80 93.10,285.30 93.90,290.70 90.40,296.20 90.90,293.40 90.00,288.00 87.10,283.10 83.30,280.40 77.80,279.30 72.40,278.90" fill="#0066ff" stroke="#0066ff" stroke-width="0.3" stroke-linejoin="round"/>
<polygon points="19.10,253.55 20.10,253.58 21.10,253.61 22.10,253.65 23.10,253.69 24.10,253.73 25.10,253.78 26.10,253.83 27.10,253.88 28.10,253.94 29.10,254.00 30.10,254.06 31.10,254.12 32.10,254.19 33.10,254.27 34.10,254.36 35.10,254.44 36.10,254.53 37.10,254.63 38.10,254.72 39.10,254.82 40.10,254.91 41.10,255.01 42.10,255.11 43.10,255.22 44.10,255.33 45.10,255.44 46.10,255.55 47.10,255.65 48.10,255.76 48.40,255.79 48.40,258.25 19.10,258.25" fill="#00ccff"/>
<polygon points="25.90,253.82 26.90,253.87 27.90,253.93 28.90,253.99 29.90,254.04 30.90,254.11 31.90,254.18 32.90,254.26 33.90,254.34 34.90,254.43 35.90,254.52 36.90,254.61 37.90,254.70 38.90,254.80 39.90,254.89 40.90,254.99 41.90,255.09 42.90,255.20 43.90,255.30 44.90,255.42 45.90,255.53 46.90,255.63 47.90,255.74 48.40,255.79 48.40,258.25 25.90,258.25" fill="#00ffcc"/>
<polygon points="30.90,254.11 31.90,254.18 32.90,254.26 33.90,254.34 34.90,254.43 35.90,254.52 36.90,254.61 37.90,254.70 38.90,254.80 39.90,254.89 40.90,254.99 41.90,255.09 42.90,255.20 43.90,255.30 44.90,255.42 45.90,255.53 46.90,255.63 47.90,255.74 48.40,255.79 48.40,258.25 30.90,258.25" fill="#00ff66"/>
<polygon points="37.90,254.70 38.90,254.80 39.90,254.89 40.90,254.99 41.90,255.09 42.90,255.20 43.90,255.30 44.90,255.42 45.90,255.53 46.90,255.63 47.90,255.74 48.40,255.79 48.40,258.25 37.90,258.25" fill="#00ff00"/>
<polygon points="43.90,255.30 44.90,255.42 45.90,255.53 46.90,255.63 47.90,255.74 48.40,255.79 48.40,258.25 43.90,258.25" fill="#66ff00"/>
<polygon points="45.90,257.65 45.90,260.75 52.40,259.25" fill="#0000ff"/>
<polygon points="19.10,238.45 90.20,238.45 90.20,238.95 90.10,239.04 89.10,239.89 88.10,240.68 87.10,241.39 86.10,242.07 85.10,242.71 84.10,243.34 83.10,243.96 82.10,244.56 81.10,245.15 80.10,245.73 79.10,246.30 78.10,246.86 77.10,247.40 76.10,247.93 75.10,248.46 74.10,248.98 73.10,249.49 72.10,250.01 71.10,250.54 70.10,251.06 69.10,251.58 68.10,252.07 67.10,252.54 66.10,253.00 65.10,253.45 64.10,253.88 63.10,254.28 62.10,254.65 61.10,254.98 60.10,255.31 59.10,255.61 58.10,255.84 57.10,255.99 56.10,256.09 55.10,256.17 54.10,256.20 53.10,256.17 52.10,256.10 51.10,256.01 50.10,255.94 49.10,255.85 48.10,255.76 47.10,255.65 46.10,255.55 45.10,255.44 44.10,255.33 43.10,255.22 42.10,255.11 41.10,255.01 40.10,254.91 39.10,254.82 38.10,254.72 37.10,254.63 36.10,254.53 35.10,254.44 34.10,254.36 33.10,254.27 32.10,254.19 31.10,254.12 30.10,254.06 29.10,254.00 28.10,253.94 27.10,253.88 26.10,253.83 25.10,253.78 24.10,253.73 23.10,253.69 22.10,253.65 21.10,253.61 20.10,253.58 19.10,253.55" fill="#fff"/>
<polygon points="19.10,296.05 90.20,296.05 90.20,296.05 90.10,295.96 89.10,295.11 88.10,294.32 87.10,293.61 86.10,292.93 85.10,292.29 84.10,291.66 83.10,291.04 82.10,290.44 81.10,289.85 80.10,289.27 79.10,288.70 78.10,288.14 77.10,287.60 76.10,287.07 75.10,286.54 74.10,286.02 73.10,285.51 72.10,284.99 71.10,284.46 70.10,283.94 69.10,283.42 68.10,282.93 67.10,282.46 66.10,282.00 65.10,281.55 64.10,281.12 63.10,280.72 62.10,280.35 61.10,280.02 60.10,279.69 59.10,279.39 58.10,279.16 57.10,279.01 56.10,278.91 55.10,278.83 54.10,278.80 53.10,278.83 52.10,278.90 51.10,278.99 50.10,279.06 49.10,279.15 48.10,279.24 47.10,279.35 46.10,279.45 45.10,279.56 44.10,279.67 43.10,279.78 42.10,279.89 41.10,279.99 40.10,280.09 39.10,280.18 38.10,280.28 37.10,280.37 36.10,280.47 35.10,280.56 34.10,280.64 33.10,280.73 32.10,280.81 31.10,280.88 30.10,280.94 29.10,281.00 28.10,281.06 27.10,281.12 26.10,281.17 25.10,281.22 24.10,281.27 23.10,281.31 22.10,281.35 21.10,281.39 20.10,281.42 19.10,281.45" fill="#fff"/>
<rect x="19.10" y="257.70" width="26.80" height="3.05" fill="#fff"/>
<rect x="19.10" y="273.95" width="26.80" height="2.95" fill="#fff"/>
</g>
<path d="M19.40,203.50V330.70H159.05" fill="none" stroke="#000" stroke-width="0.6"/>
<path d="M19.10,322.85h3.2M19.10,308.95h3.2M19.10,295.05h3.2M19.10,281.15h3.2M19.10,267.25h3.2M19.10,253.35h3.2M19.10,239.45h3.2M19.10,225.55h3.2M19.10,211.65h3.2M45.90,330.70v-2.8M73.60,330.70v-2.8M101.30,330.70v-2.8M129.00,330.70v-2.8M156.70,330.70v-2.8" stroke="#000" stroke-width="0.8" fill="none"/>
<path d="M19.10,328.41h1.5M19.10,325.63h1.5M19.10,320.07h1.5M19.10,317.29h1.5M19.10,314.51h1.5M19.10,311.73h1.5M19.10,306.17h1.5M19.10,303.39h1.5M19.10,300.61h1.5M19.10,297.83h1.5M19.10,292.27h1.5M19.10,289.49h1.5M19.10,286.71h1.5M19.10,283.93h1.5M19.10,278.37h1.5M19.10,275.59h1.5M19.10,272.81h1.5M19.10,270.03h1.5M19.10,264.47h1.5M19.10,261.69h1.5M19.10,258.91h1.5M19.10,256.13h1.5M19.10,250.57h1.5M19.10,247.79h1.5M19.10,245.01h1.5M19.10,242.23h1.5M19.10,236.67h1.5M19.10,233.89h1.5M19.10,231.11h1.5M19.10,228.33h1.5M19.10,222.77h1.5M19.10,219.99h1.5M19.10,217.21h1.5M19.10,214.43h1.5M19.10,208.87h1.5M19.10,206.09h1.5M19.10,203.31h1.5M20.97,330.70v-1.3M23.74,330.70v-1.3M26.51,330.70v-1.3M29.28,330.70v-1.3M32.05,330.70v-2.4M34.82,330.70v-1.3M37.59,330.70v-1.3M40.36,330.70v-1.3M43.13,330.70v-1.3M48.67,330.70v-1.3M51.44,330.70v-1.3M54.21,330.70v-1.3M56.98,330.70v-1.3M59.75,330.70v-2.4M62.52,330.70v-1.3M65.29,330.70v-1.3M68.06,330.70v-1.3M70.83,330.70v-1.3M76.37,330.70v-1.3M79.14,330.70v-1.3M81.91,330.70v-1.3M84.68,330.70v-1.3M87.45,330.70v-2.4M90.22,330.70v-1.3M92.99,330.70v-1.3M95.76,330.70v-1.3M98.53,330.70v-1.3M104.07,330.70v-1.3M106.84,330.70v-1.3M109.61,330.70v-1.3M112.38,330.70v-1.3M115.15,330.70v-2.4M117.92,330.70v-1.3M120.69,330.70v-1.3M123.46,330.70v-1.3M126.23,330.70v-1.3M131.77,330.70v-1.3M134.54,330.70v-1.3M137.31,330.70v-1.3M140.08,330.70v-1.3M142.85,330.70v-2.4M145.62,330.70v-1.3M148.39,330.70v-1.3M151.16,330.70v-1.3M153.93,330.70v-1.3" stroke="#000" stroke-width="0.45" stroke-opacity="0.4" fill="none"/>
<text x="17.50" y="213.35" text-anchor="end" class="tk">200</text>
<text x="17.50" y="241.15" text-anchor="end" class="tk">100</text>
<text x="17.50" y="268.95" text-anchor="end" class="tk">0</text>
<text x="17.50" y="296.75" text-anchor="end" class="tk">−100</text>
<text x="17.50" y="324.55" text-anchor="end" class="tk">−200</text>
<text x="45.90" y="335.80" text-anchor="middle" class="tk">0</text>
<text x="73.60" y="335.80" text-anchor="middle" class="tk">100</text>
<text x="101.30" y="335.80" text-anchor="middle" class="tk">200</text>
<text x="129.00" y="335.80" text-anchor="middle" class="tk">300</text>
<text x="156.70" y="335.80" text-anchor="middle" class="tk">400</text>
<text x="89.08" y="341.40" text-anchor="middle" class="al"><tspan font-style="italic">x</tspan> (mm)</text>
<text transform="translate(7.60,267.25) rotate(-90)" text-anchor="middle" class="al"><tspan font-style="italic">y</tspan> (mm)</text>
<text x="81.10" y="358.40" text-anchor="middle" class="sl">(<tspan font-weight="bold">d</tspan>)</text>
<g clip-path="url(#clipe)">
<rect x="213.10" y="203.50" width="140.35" height="127.20" fill="#0000ff"/>
<polygon points="239.90,255.80 241.90,255.95 243.90,256.06 245.90,256.10 247.90,256.08 249.90,256.04 251.90,255.98 253.90,255.81 255.90,255.50 257.90,255.08 259.90,254.57 261.90,254.00 263.90,253.39 265.90,252.76 267.90,252.14 269.90,251.44 271.90,250.64 273.90,249.75 275.90,248.80 277.90,247.81 279.90,246.79 281.90,245.78 283.90,244.80 285.90,243.82 287.90,242.83 289.90,241.81 291.90,240.79 293.90,239.76 295.90,238.73 297.90,237.71 299.90,236.70 301.90,235.71 303.90,234.73 305.90,233.75 307.90,232.78 309.90,231.82 311.90,230.85 313.90,229.89 315.90,228.93 317.90,227.96 319.90,227.00 321.90,226.02 323.90,225.04 325.90,224.05 327.90,223.06 329.90,222.07 331.90,221.07 333.90,220.08 335.90,219.08 337.90,218.07 339.90,217.07 341.90,216.06 343.90,215.04 345.90,214.03 347.90,213.01 349.90,211.99 351.90,210.97 353.95,209.92 353.95,252.51 351.90,253.03 349.90,253.53 347.90,254.05 345.90,254.56 343.90,255.08 341.90,255.61 339.90,256.14 337.90,256.67 335.90,257.21 333.90,257.75 331.90,258.29 329.90,258.84 327.90,259.39 325.90,259.95 323.90,260.51 321.90,261.09 319.90,261.67 317.90,262.27 315.90,262.88 313.90,263.48 311.90,264.09 309.90,264.70 307.90,265.29 305.90,265.88 303.90,266.46 301.90,267.02 299.90,267.56 297.90,268.11 295.90,268.66 293.90,269.21 291.90,269.75 289.90,270.26 287.90,270.73 285.90,271.16 283.90,271.53 281.90,271.88 279.90,272.22 277.90,272.54 275.90,272.84 273.90,273.11 271.90,273.35 269.90,273.54 267.90,273.69 265.90,273.79 263.90,273.87 261.90,273.94 259.90,274.00 257.90,274.07 255.90,274.13 253.90,274.17 251.90,274.20 249.90,274.18 247.90,274.11 245.90,274.03 243.90,274.00 241.90,274.20 239.90,274.60" fill="#0066ff"/>
<polygon points="239.90,256.87 241.90,256.97 243.90,257.01 245.90,257.00 247.90,256.94 249.90,256.86 251.90,256.75 253.90,256.54 255.90,256.22 257.90,255.80 259.90,255.30 261.90,254.75 263.90,254.16 265.90,253.55 267.90,252.94 269.90,252.28 271.90,251.51 273.90,250.68 275.90,249.78 277.90,248.85 279.90,247.91 281.90,246.96 283.90,246.04 285.90,245.13 287.90,244.20 289.90,243.25 291.90,242.29 293.90,241.33 295.90,240.37 297.90,239.42 299.90,238.48 301.90,237.56 303.90,236.65 305.90,235.74 307.90,234.84 309.90,233.95 311.90,233.06 313.90,232.16 315.90,231.27 317.90,230.38 319.90,229.48 321.90,228.58 323.90,227.68 325.90,226.76 327.90,225.85 329.90,224.93 331.90,224.01 333.90,223.09 335.90,222.17 337.90,221.24 339.90,220.32 341.90,219.39 343.90,218.46 345.90,217.52 347.90,216.59 349.90,215.65 351.90,214.71 353.95,213.75 353.95,249.49 351.90,250.04 349.90,250.58 347.90,251.13 345.90,251.67 343.90,252.23 341.90,252.79 339.90,253.35 337.90,253.93 335.90,254.50 333.90,255.08 331.90,255.67 329.90,256.26 327.90,256.85 325.90,257.45 323.90,258.05 321.90,258.68 319.90,259.32 317.90,259.97 315.90,260.63 313.90,261.29 311.90,261.96 309.90,262.62 307.90,263.27 305.90,263.91 303.90,264.53 301.90,265.14 299.90,265.72 297.90,266.30 295.90,266.87 293.90,267.44 291.90,268.00 289.90,268.54 287.90,269.05 285.90,269.52 283.90,269.94 281.90,270.34 279.90,270.73 277.90,271.11 275.90,271.48 273.90,271.85 271.90,272.20 269.90,272.50 267.90,272.75 265.90,272.92 263.90,273.06 261.90,273.19 259.90,273.31 257.90,273.44 255.90,273.58 253.90,273.70 251.90,273.79 249.90,273.83 247.90,273.82 245.90,273.80 243.90,273.83 241.90,274.09 239.90,274.53" fill="#00ccff"/>
<polygon points="239.90,257.72 241.90,257.77 243.90,257.77 245.90,257.72 247.90,257.63 249.90,257.50 251.90,257.36 253.90,257.13 255.90,256.80 257.90,256.37 259.90,255.88 261.90,255.34 263.90,254.77 265.90,254.17 267.90,253.58 269.90,252.94 271.90,252.21 273.90,251.41 275.90,250.56 277.90,249.68 279.90,248.79 281.90,247.90 283.90,247.03 285.90,246.16 287.90,245.28 289.90,244.39 291.90,243.49 293.90,242.58 295.90,241.68 297.90,240.78 299.90,239.90 301.90,239.03 303.90,238.18 305.90,237.33 307.90,236.48 309.90,235.64 311.90,234.80 313.90,233.97 315.90,233.13 317.90,232.30 319.90,231.46 321.90,230.62 323.90,229.77 325.90,228.92 327.90,228.06 329.90,227.20 331.90,226.35 333.90,225.49 335.90,224.63 337.90,223.76 339.90,222.90 341.90,222.03 343.90,221.17 345.90,220.30 347.90,219.43 349.90,218.56 351.90,217.68 353.95,216.79 353.95,246.99 351.90,247.57 349.90,248.13 347.90,248.70 345.90,249.28 343.90,249.86 341.90,250.45 339.90,251.05 337.90,251.65 335.90,252.26 333.90,252.87 331.90,253.49 329.90,254.11 327.90,254.74 325.90,255.37 323.90,256.01 321.90,256.68 319.90,257.36 317.90,258.06 315.90,258.76 313.90,259.47 311.90,260.18 309.90,260.89 307.90,261.59 305.90,262.27 303.90,262.94 301.90,263.58 299.90,264.19 297.90,264.79 295.90,265.39 293.90,265.98 291.90,266.55 289.90,267.11 287.90,267.65 285.90,268.15 283.90,268.62 281.90,269.06 279.90,269.50 277.90,269.93 275.90,270.35 273.90,270.80 271.90,271.24 269.90,271.64 267.90,271.96 265.90,272.20 263.90,272.39 261.90,272.56 259.90,272.73 257.90,272.93 255.90,273.12 253.90,273.31 251.90,273.45 249.90,273.54 247.90,273.58 245.90,273.61 243.90,273.70 241.90,274.00 239.90,274.48" fill="#00ffcc"/>
<polygon points="239.90,258.35 241.90,258.37 243.90,258.34 245.90,258.26 247.90,258.13 249.90,257.98 251.90,257.82 253.90,257.57 255.90,257.22 257.90,256.80 259.90,256.32 261.90,255.78 263.90,255.22 265.90,254.64 267.90,254.06 269.90,253.43 271.90,252.72 273.90,251.95 275.90,251.14 277.90,250.30 279.90,249.45 281.90,248.59 283.90,247.76 285.90,246.94 287.90,246.09 289.90,245.24 291.90,244.38 293.90,243.51 295.90,242.65 297.90,241.80 299.90,240.96 301.90,240.13 303.90,239.32 305.90,238.51 307.90,237.70 309.90,236.90 311.90,236.11 313.90,235.31 315.90,234.52 317.90,233.73 319.90,232.93 321.90,232.13 323.90,231.33 325.90,230.52 327.90,229.71 329.90,228.90 331.90,228.09 333.90,227.27 335.90,226.46 337.90,225.64 339.90,224.82 341.90,224.01 343.90,223.19 345.90,222.37 347.90,221.54 349.90,220.72 351.90,219.90 353.95,219.05 353.95,244.63 351.90,245.23 349.90,245.82 347.90,246.42 345.90,247.02 343.90,247.63 341.90,248.25 339.90,248.87 337.90,249.50 335.90,250.14 333.90,250.78 331.90,251.43 329.90,252.09 327.90,252.75 325.90,253.42 323.90,254.09 321.90,254.79 319.90,255.52 317.90,256.25 315.90,257.00 313.90,257.76 311.90,258.51 309.90,259.26 307.90,260.00 305.90,260.73 303.90,261.43 301.90,262.11 299.90,262.75 297.90,263.38 295.90,263.99 293.90,264.59 291.90,265.18 289.90,265.76 287.90,266.33 285.90,266.87 283.90,267.38 281.90,267.86 279.90,268.33 277.90,268.81 275.90,269.29 273.90,269.80 271.90,270.34 269.90,270.83 267.90,271.23 265.90,271.52 263.90,271.75 261.90,271.97 259.90,272.19 257.90,272.44 255.90,272.69 253.90,272.93 251.90,273.14 249.90,273.27 247.90,273.35 245.90,273.43 243.90,273.57 241.90,273.91 239.90,274.42" fill="#00ff66"/>
<polygon points="239.90,258.84 241.90,258.83 243.90,258.77 245.90,258.67 247.90,258.52 249.90,258.35 251.90,258.17 253.90,257.90 255.90,257.55 257.90,257.13 259.90,256.65 261.90,256.12 263.90,255.57 265.90,254.99 267.90,254.42 269.90,253.80 271.90,253.12 273.90,252.37 275.90,251.59 277.90,250.77 279.90,249.95 281.90,249.13 283.90,248.32 285.90,247.53 287.90,246.71 289.90,245.89 291.90,245.06 293.90,244.23 295.90,243.40 297.90,242.58 299.90,241.77 301.90,240.97 303.90,240.19 305.90,239.41 307.90,238.64 309.90,237.87 311.90,237.11 313.90,236.34 315.90,235.58 317.90,234.82 319.90,234.06 321.90,233.29 323.90,232.52 325.90,231.75 327.90,230.97 329.90,230.19 331.90,229.42 333.90,228.64 335.90,227.86 337.90,227.08 339.90,226.30 341.90,225.52 343.90,224.73 345.90,223.95 347.90,223.16 349.90,222.38 351.90,221.59 353.95,220.79 353.95,242.47 351.90,243.09 349.90,243.70 347.90,244.32 345.90,244.95 343.90,245.58 341.90,246.22 339.90,246.87 337.90,247.53 335.90,248.20 333.90,248.87 331.90,249.55 329.90,250.23 327.90,250.92 325.90,251.62 323.90,252.33 321.90,253.06 319.90,253.82 317.90,254.60 315.90,255.39 313.90,256.19 311.90,256.98 309.90,257.77 307.90,258.55 305.90,259.31 303.90,260.05 301.90,260.76 299.90,261.43 297.90,262.08 295.90,262.70 293.90,263.32 291.90,263.93 289.90,264.53 287.90,265.12 285.90,265.69 283.90,266.23 281.90,266.75 279.90,267.27 277.90,267.78 275.90,268.31 273.90,268.89 271.90,269.51 269.90,270.08 267.90,270.55 265.90,270.89 263.90,271.17 261.90,271.43 259.90,271.69 257.90,271.99 255.90,272.30 253.90,272.59 251.90,272.84 249.90,273.02 247.90,273.14 245.90,273.26 243.90,273.45 241.90,273.83 239.90,274.37" fill="#00ff00"/>
<polygon points="239.90,259.35 241.90,259.31 243.90,259.23 245.90,259.10 247.90,258.93 249.90,258.74 251.90,258.53 253.90,258.26 255.90,257.90 257.90,257.48 259.90,257.00 261.90,256.48 263.90,255.93 265.90,255.37 267.90,254.81 269.90,254.20 271.90,253.53 273.90,252.81 275.90,252.06 277.90,251.28 279.90,250.48 281.90,249.69 283.90,248.92 285.90,248.15 287.90,247.37 289.90,246.58 291.90,245.78 293.90,244.98 295.90,244.19 297.90,243.40 299.90,242.62 301.90,241.86 303.90,241.11 305.90,240.37 307.90,239.63 309.90,238.89 311.90,238.16 313.90,237.43 315.90,236.71 317.90,235.98 319.90,235.25 321.90,234.52 323.90,233.79 325.90,233.05 327.90,232.31 329.90,231.57 331.90,230.83 333.90,230.09 335.90,229.34 337.90,228.60 339.90,227.86 341.90,227.11 343.90,226.37 345.90,225.63 347.90,224.88 349.90,224.13 351.90,223.39 353.95,222.62 353.95,240.37 351.90,241.02 349.90,241.65 347.90,242.29 345.90,242.94 343.90,243.60 341.90,244.27 339.90,244.94 337.90,245.63 335.90,246.32 333.90,247.02 331.90,247.72 329.90,248.44 327.90,249.16 325.90,249.88 323.90,250.62 321.90,251.39 319.90,252.19 317.90,253.00 315.90,253.83 313.90,254.66 311.90,255.50 309.90,256.33 307.90,257.15 305.90,257.94 303.90,258.71 301.90,259.45 299.90,260.15 297.90,260.82 295.90,261.46 293.90,262.09 291.90,262.71 289.90,263.33 287.90,263.95 285.90,264.55 283.90,265.13 281.90,265.68 279.90,266.23 277.90,266.79 275.90,267.37 273.90,268.02 271.90,268.71 269.90,269.36 267.90,269.89 265.90,270.28 263.90,270.61 261.90,270.90 259.90,271.21 257.90,271.56 255.90,271.92 253.90,272.26 251.90,272.56 249.90,272.78 247.90,272.94 245.90,273.10 243.90,273.33 241.90,273.75 239.90,274.33" fill="#66ff00"/>
<polygon points="239.90,259.76 241.90,259.70 243.90,259.59 245.90,259.44 247.90,259.26 249.90,259.05 251.90,258.83 253.90,258.54 255.90,258.18 257.90,257.75 259.90,257.28 261.90,256.76 263.90,256.22 265.90,255.67 267.90,255.11 269.90,254.52 271.90,253.87 273.90,253.17 275.90,252.43 277.90,251.67 279.90,250.91 281.90,250.14 283.90,249.39 285.90,248.65 287.90,247.89 289.90,247.13 291.90,246.36 293.90,245.58 295.90,244.81 297.90,244.05 299.90,243.30 301.90,242.57 303.90,241.84 305.90,241.13 307.90,240.41 309.90,239.71 311.90,239.00 313.90,238.30 315.90,237.60 317.90,236.90 319.90,236.20 321.90,235.50 323.90,234.79 325.90,234.08 327.90,233.37 329.90,232.66 331.90,231.95 333.90,231.23 335.90,230.52 337.90,229.81 339.90,229.10 341.90,228.38 343.90,227.67 345.90,226.96 347.90,226.24 349.90,225.53 351.90,224.82 353.95,224.08 353.95,238.39 351.90,239.06 349.90,239.71 347.90,240.37 345.90,241.04 343.90,241.72 341.90,242.41 339.90,243.11 337.90,243.82 335.90,244.53 333.90,245.26 331.90,245.99 329.90,246.73 327.90,247.48 325.90,248.24 323.90,249.00 321.90,249.80 319.90,250.63 317.90,251.48 315.90,252.35 313.90,253.22 311.90,254.09 309.90,254.96 307.90,255.81 305.90,256.64 303.90,257.44 301.90,258.21 299.90,258.94 297.90,259.62 295.90,260.28 293.90,260.92 291.90,261.56 289.90,262.20 287.90,262.84 285.90,263.47 283.90,264.08 281.90,264.67 279.90,265.25 277.90,265.85 275.90,266.47 273.90,267.18 271.90,267.95 269.90,268.68 267.90,269.27 265.90,269.71 263.90,270.07 261.90,270.40 259.90,270.76 257.90,271.15 255.90,271.56 253.90,271.95 251.90,272.29 249.90,272.56 247.90,272.75 245.90,272.95 243.90,273.22 241.90,273.68 239.90,274.28" fill="#ccff00"/>
<polygon points="239.90,260.19 241.90,260.11 243.90,259.98 245.90,259.81 247.90,259.61 249.90,259.38 251.90,259.14 253.90,258.84 255.90,258.47 257.90,258.04 259.90,257.57 261.90,257.06 263.90,256.53 265.90,255.99 267.90,255.44 269.90,254.85 271.90,254.22 273.90,253.54 275.90,252.83 277.90,252.10 279.90,251.36 281.90,250.62 283.90,249.90 285.90,249.18 287.90,248.45 289.90,247.71 291.90,246.96 293.90,246.22 295.90,245.48 297.90,244.74 299.90,244.02 301.90,243.32 303.90,242.62 305.90,241.93 307.90,241.25 309.90,240.57 311.90,239.89 313.90,239.22 315.90,238.55 317.90,237.87 319.90,237.20 321.90,236.53 323.90,235.85 325.90,235.17 327.90,234.49 329.90,233.81 331.90,233.13 333.90,232.45 335.90,231.77 337.90,231.09 339.90,230.41 341.90,229.73 343.90,229.05 345.90,228.37 347.90,227.69 349.90,227.01 351.90,226.33 353.95,225.63 353.95,236.67 351.90,237.35 349.90,238.02 347.90,238.70 345.90,239.39 343.90,240.09 341.90,240.80 339.90,241.52 337.90,242.25 335.90,242.99 333.90,243.74 331.90,244.49 329.90,245.26 327.90,246.03 325.90,246.81 323.90,247.60 321.90,248.43 319.90,249.29 317.90,250.17 315.90,251.07 313.90,251.97 311.90,252.87 309.90,253.77 307.90,254.66 305.90,255.52 303.90,256.35 301.90,257.14 299.90,257.89 297.90,258.59 295.90,259.26 293.90,259.91 291.90,260.56 289.90,261.22 287.90,261.88 285.90,262.53 283.90,263.17 281.90,263.79 279.90,264.40 277.90,265.03 275.90,265.69 273.90,266.46 271.90,267.29 269.90,268.08 267.90,268.73 265.90,269.21 263.90,269.61 261.90,269.97 259.90,270.36 257.90,270.79 255.90,271.25 253.90,271.68 251.90,272.06 249.90,272.36 247.90,272.59 245.90,272.82 243.90,273.13 241.90,273.61 239.90,274.24" fill="#ffcc00"/>
<polygon points="239.90,260.60 241.90,260.49 243.90,260.34 245.90,260.15 247.90,259.94 249.90,259.69 251.90,259.43 253.90,259.12 255.90,258.74 257.90,258.32 259.90,257.85 261.90,257.35 263.90,256.83 265.90,256.29 267.90,255.75 269.90,255.17 271.90,254.55 273.90,253.89 275.90,253.20 277.90,252.49 279.90,251.78 281.90,251.07 283.90,250.37 285.90,249.67 287.90,248.97 289.90,248.25 291.90,247.54 293.90,246.82 295.90,246.10 297.90,245.40 299.90,244.71 301.90,244.03 303.90,243.35 305.90,242.69 307.90,242.03 309.90,241.38 311.90,240.73 313.90,240.08 315.90,239.44 317.90,238.80 319.90,238.15 321.90,237.51 323.90,236.86 325.90,236.21 327.90,235.56 329.90,234.90 331.90,234.25 333.90,233.60 335.90,232.95 337.90,232.30 339.90,231.65 341.90,231.00 343.90,230.35 345.90,229.70 347.90,229.05 349.90,228.40 351.90,227.75 353.95,227.09 353.95,234.77 351.90,235.48 349.90,236.16 347.90,236.86 345.90,237.57 343.90,238.30 341.90,239.03 339.90,239.77 337.90,240.52 335.90,241.29 333.90,242.06 331.90,242.84 329.90,243.63 327.90,244.43 325.90,245.23 323.90,246.05 321.90,246.91 319.90,247.80 317.90,248.72 315.90,249.65 313.90,250.59 311.90,251.53 309.90,252.46 307.90,253.38 305.90,254.27 303.90,255.13 301.90,255.95 299.90,256.73 297.90,257.45 295.90,258.13 293.90,258.80 291.90,259.46 289.90,260.13 287.90,260.81 285.90,261.49 283.90,262.17 281.90,262.82 279.90,263.47 277.90,264.13 275.90,264.84 273.90,265.66 271.90,266.56 269.90,267.43 267.90,268.14 265.90,268.66 263.90,269.10 261.90,269.50 259.90,269.92 257.90,270.40 255.90,270.90 253.90,271.38 251.90,271.81 249.90,272.14 247.90,272.40 245.90,272.67 243.90,273.02 241.90,273.54 239.90,274.20" fill="#ff6600"/>
<polygon points="239.90,260.90 241.40,260.88 242.90,260.83 244.40,260.77 245.90,260.68 247.40,260.59 248.90,260.49 250.40,260.38 251.90,260.26 253.40,260.12 254.90,259.94 256.40,259.74 257.90,259.51 259.40,259.26 260.90,258.99 262.40,258.72 263.90,258.43 265.40,258.14 266.90,257.85 268.40,257.56 269.90,257.26 271.40,256.95 272.90,256.62 274.40,256.28 275.90,255.93 277.40,255.56 278.90,255.19 280.40,254.80 281.90,254.40 283.40,253.99 284.90,253.57 286.40,253.14 287.90,252.69 289.40,252.22 290.90,251.73 292.40,251.23 293.90,250.72 295.40,250.19 296.90,249.65 298.40,249.10 299.90,248.53 300.50,248.30 312.60,244.20 300.50,251.50 299.90,251.76 298.40,252.39 296.90,253.03 295.40,253.66 293.90,254.28 292.40,254.91 290.90,255.53 289.40,256.15 287.90,256.75 286.40,257.35 284.90,257.96 283.40,258.60 281.90,259.24 280.40,259.89 278.90,260.56 277.40,261.24 275.90,261.95 274.40,262.73 272.90,263.58 271.40,264.43 269.90,265.24 268.40,265.93 266.90,266.47 265.40,266.91 263.90,267.30 262.40,267.67 260.90,268.05 259.40,268.48 257.90,268.94 256.40,269.42 254.90,269.90 253.40,270.36 251.90,270.78 250.40,271.12 248.90,271.41 247.40,271.67 245.90,271.95 244.40,272.29 242.90,272.75 241.40,273.33 239.90,274.00" fill="#ff0000"/>
<rect x="213.10" y="260.75" width="28.30" height="13.3" fill="#ff0000"/>
<polygon points="265.30,278.20 271.80,276.00 280.50,275.20 284.90,278.20 288.20,283.10 289.80,289.10 288.20,294.50 284.40,297.00 285.40,293.40 286.00,288.50 283.80,283.60 280.00,280.40 274.00,279.30 267.40,279.60" fill="#0066ff" stroke="#0066ff" stroke-width="0.3" stroke-linejoin="round"/>
<polygon points="213.10,253.55 214.10,253.58 215.10,253.61 216.10,253.65 217.10,253.69 218.10,253.73 219.10,253.78 220.10,253.83 221.10,253.88 222.10,253.94 223.10,254.00 224.10,254.06 225.10,254.12 226.10,254.19 227.10,254.27 228.10,254.36 229.10,254.44 230.10,254.53 231.10,254.63 232.10,254.72 233.10,254.82 234.10,254.91 235.10,255.01 236.10,255.11 237.10,255.22 238.10,255.33 239.10,255.44 240.10,255.55 241.10,255.65 242.10,255.76 242.40,255.79 242.40,258.25 213.10,258.25" fill="#00ccff"/>
<polygon points="219.90,253.82 220.90,253.87 221.90,253.93 222.90,253.99 223.90,254.04 224.90,254.11 225.90,254.18 226.90,254.26 227.90,254.34 228.90,254.43 229.90,254.52 230.90,254.61 231.90,254.70 232.90,254.80 233.90,254.89 234.90,254.99 235.90,255.09 236.90,255.20 237.90,255.30 238.90,255.42 239.90,255.53 240.90,255.63 241.90,255.74 242.40,255.79 242.40,258.25 219.90,258.25" fill="#00ffcc"/>
<polygon points="224.90,254.11 225.90,254.18 226.90,254.26 227.90,254.34 228.90,254.43 229.90,254.52 230.90,254.61 231.90,254.70 232.90,254.80 233.90,254.89 234.90,254.99 235.90,255.09 236.90,255.20 237.90,255.30 238.90,255.42 239.90,255.53 240.90,255.63 241.90,255.74 242.40,255.79 242.40,258.25 224.90,258.25" fill="#00ff66"/>
<polygon points="231.90,254.70 232.90,254.80 233.90,254.89 234.90,254.99 235.90,255.09 236.90,255.20 237.90,255.30 238.90,255.42 239.90,255.53 240.90,255.63 241.90,255.74 242.40,255.79 242.40,258.25 231.90,258.25" fill="#00ff00"/>
<polygon points="237.90,255.30 238.90,255.42 239.90,255.53 240.90,255.63 241.90,255.74 242.40,255.79 242.40,258.25 237.90,258.25" fill="#66ff00"/>
<polygon points="239.90,257.65 239.90,260.75 246.40,259.25" fill="#0000ff"/>
<polygon points="213.10,238.45 284.20,238.45 284.20,238.95 284.10,239.04 283.10,239.89 282.10,240.68 281.10,241.39 280.10,242.07 279.10,242.71 278.10,243.34 277.10,243.96 276.10,244.56 275.10,245.15 274.10,245.73 273.10,246.30 272.10,246.86 271.10,247.40 270.10,247.93 269.10,248.46 268.10,248.98 267.10,249.49 266.10,250.01 265.10,250.54 264.10,251.06 263.10,251.58 262.10,252.07 261.10,252.54 260.10,253.00 259.10,253.45 258.10,253.88 257.10,254.28 256.10,254.65 255.10,254.98 254.10,255.31 253.10,255.61 252.10,255.84 251.10,255.99 250.10,256.09 249.10,256.17 248.10,256.20 247.10,256.17 246.10,256.10 245.10,256.01 244.10,255.94 243.10,255.85 242.10,255.76 241.10,255.65 240.10,255.55 239.10,255.44 238.10,255.33 237.10,255.22 236.10,255.11 235.10,255.01 234.10,254.91 233.10,254.82 232.10,254.72 231.10,254.63 230.10,254.53 229.10,254.44 228.10,254.36 227.10,254.27 226.10,254.19 225.10,254.12 224.10,254.06 223.10,254.00 222.10,253.94 221.10,253.88 220.10,253.83 219.10,253.78 218.10,253.73 217.10,253.69 216.10,253.65 215.10,253.61 214.10,253.58 213.10,253.55" fill="#fff"/>
<polygon points="213.10,296.05 284.20,296.05 284.20,296.05 284.10,295.96 283.10,295.11 282.10,294.32 281.10,293.61 280.10,292.93 279.10,292.29 278.10,291.66 277.10,291.04 276.10,290.44 275.10,289.85 274.10,289.27 273.10,288.70 272.10,288.14 271.10,287.60 270.10,287.07 269.10,286.54 268.10,286.02 267.10,285.51 266.10,284.99 265.10,284.46 264.10,283.94 263.10,283.42 262.10,282.93 261.10,282.46 260.10,282.00 259.10,281.55 258.10,281.12 257.10,280.72 256.10,280.35 255.10,280.02 254.10,279.69 253.10,279.39 252.10,279.16 251.10,279.01 250.10,278.91 249.10,278.83 248.10,278.80 247.10,278.83 246.10,278.90 245.10,278.99 244.10,279.06 243.10,279.15 242.10,279.24 241.10,279.35 240.10,279.45 239.10,279.56 238.10,279.67 237.10,279.78 236.10,279.89 235.10,279.99 234.10,280.09 233.10,280.18 232.10,280.28 231.10,280.37 230.10,280.47 229.10,280.56 228.10,280.64 227.10,280.73 226.10,280.81 225.10,280.88 224.10,280.94 223.10,281.00 222.10,281.06 221.10,281.12 220.10,281.17 219.10,281.22 218.10,281.27 217.10,281.31 216.10,281.35 215.10,281.39 214.10,281.42 213.10,281.45" fill="#fff"/>
<rect x="213.10" y="257.70" width="26.80" height="3.05" fill="#fff"/>
<rect x="213.10" y="273.95" width="26.80" height="2.95" fill="#fff"/>
</g>
<path d="M213.40,203.50V330.70H353.45" fill="none" stroke="#000" stroke-width="0.6"/>
<path d="M213.10,322.85h3.2M213.10,308.95h3.2M213.10,295.05h3.2M213.10,281.15h3.2M213.10,267.25h3.2M213.10,253.35h3.2M213.10,239.45h3.2M213.10,225.55h3.2M213.10,211.65h3.2M240.50,330.70v-2.8M268.20,330.70v-2.8M295.90,330.70v-2.8M323.60,330.70v-2.8M351.30,330.70v-2.8" stroke="#000" stroke-width="0.8" fill="none"/>
<path d="M213.10,328.41h1.5M213.10,325.63h1.5M213.10,320.07h1.5M213.10,317.29h1.5M213.10,314.51h1.5M213.10,311.73h1.5M213.10,306.17h1.5M213.10,303.39h1.5M213.10,300.61h1.5M213.10,297.83h1.5M213.10,292.27h1.5M213.10,289.49h1.5M213.10,286.71h1.5M213.10,283.93h1.5M213.10,278.37h1.5M213.10,275.59h1.5M213.10,272.81h1.5M213.10,270.03h1.5M213.10,264.47h1.5M213.10,261.69h1.5M213.10,258.91h1.5M213.10,256.13h1.5M213.10,250.57h1.5M213.10,247.79h1.5M213.10,245.01h1.5M213.10,242.23h1.5M213.10,236.67h1.5M213.10,233.89h1.5M213.10,231.11h1.5M213.10,228.33h1.5M213.10,222.77h1.5M213.10,219.99h1.5M213.10,217.21h1.5M213.10,214.43h1.5M213.10,208.87h1.5M213.10,206.09h1.5M213.10,203.31h1.5M215.57,330.70v-1.3M218.34,330.70v-1.3M221.11,330.70v-1.3M223.88,330.70v-1.3M226.65,330.70v-2.4M229.42,330.70v-1.3M232.19,330.70v-1.3M234.96,330.70v-1.3M237.73,330.70v-1.3M243.27,330.70v-1.3M246.04,330.70v-1.3M248.81,330.70v-1.3M251.58,330.70v-1.3M254.35,330.70v-2.4M257.12,330.70v-1.3M259.89,330.70v-1.3M262.66,330.70v-1.3M265.43,330.70v-1.3M270.97,330.70v-1.3M273.74,330.70v-1.3M276.51,330.70v-1.3M279.28,330.70v-1.3M282.05,330.70v-2.4M284.82,330.70v-1.3M287.59,330.70v-1.3M290.36,330.70v-1.3M293.13,330.70v-1.3M298.67,330.70v-1.3M301.44,330.70v-1.3M304.21,330.70v-1.3M306.98,330.70v-1.3M309.75,330.70v-2.4M312.52,330.70v-1.3M315.29,330.70v-1.3M318.06,330.70v-1.3M320.83,330.70v-1.3M326.37,330.70v-1.3M329.14,330.70v-1.3M331.91,330.70v-1.3M334.68,330.70v-1.3M337.45,330.70v-2.4M340.22,330.70v-1.3M342.99,330.70v-1.3M345.76,330.70v-1.3M348.53,330.70v-1.3" stroke="#000" stroke-width="0.45" stroke-opacity="0.4" fill="none"/>
<text x="211.50" y="213.35" text-anchor="end" class="tk">200</text>
<text x="211.50" y="241.15" text-anchor="end" class="tk">100</text>
<text x="211.50" y="268.95" text-anchor="end" class="tk">0</text>
<text x="211.50" y="296.75" text-anchor="end" class="tk">−100</text>
<text x="211.50" y="324.55" text-anchor="end" class="tk">−200</text>
<text x="240.50" y="335.80" text-anchor="middle" class="tk">0</text>
<text x="268.20" y="335.80" text-anchor="middle" class="tk">100</text>
<text x="295.90" y="335.80" text-anchor="middle" class="tk">200</text>
<text x="323.60" y="335.80" text-anchor="middle" class="tk">300</text>
<text x="351.30" y="335.80" text-anchor="middle" class="tk">400</text>
<text x="283.28" y="341.40" text-anchor="middle" class="al"><tspan font-style="italic">x</tspan> (mm)</text>
<text transform="translate(201.60,267.25) rotate(-90)" text-anchor="middle" class="al"><tspan font-style="italic">y</tspan> (mm)</text>
<text x="275.10" y="358.40" text-anchor="middle" class="sl">(<tspan font-weight="bold">e</tspan>)</text>
<g clip-path="url(#clipf)">
<rect x="403.10" y="203.50" width="140.35" height="127.20" fill="#0000ff"/>
<polygon points="429.90,255.80 431.90,255.97 433.90,256.07 435.90,256.10 437.90,256.05 439.90,255.92 441.90,255.75 443.90,255.47 445.90,255.05 447.90,254.51 449.90,253.89 451.90,253.19 453.90,252.45 455.90,251.69 457.90,250.92 459.90,250.07 461.90,249.09 463.90,248.01 465.90,246.87 467.90,245.69 469.90,244.52 471.90,243.38 473.90,242.30 475.90,241.29 477.90,240.30 479.90,239.32 481.90,238.35 483.90,237.39 485.90,236.43 487.90,235.47 489.90,234.49 491.90,233.51 493.90,232.53 495.90,231.54 497.90,230.55 499.90,229.57 501.90,228.58 503.90,227.58 505.90,226.59 507.90,225.59 509.90,224.58 511.90,223.58 513.90,222.56 515.90,221.54 517.90,220.52 519.90,219.49 521.90,218.45 523.90,217.42 525.90,216.38 527.90,215.33 529.90,214.29 531.90,213.23 533.90,212.18 535.90,211.12 537.90,210.05 539.90,208.99 541.90,207.91 543.95,206.82 543.95,248.90 541.90,249.49 539.90,250.07 537.90,250.65 535.90,251.24 533.90,251.82 531.90,252.41 529.90,252.99 527.90,253.58 525.90,254.17 523.90,254.76 521.90,255.35 519.90,255.94 517.90,256.54 515.90,257.13 513.90,257.73 511.90,258.33 509.90,258.93 507.90,259.54 505.90,260.14 503.90,260.75 501.90,261.36 499.90,261.97 497.90,262.58 495.90,263.18 493.90,263.78 491.90,264.38 489.90,264.98 487.90,265.59 485.90,266.22 483.90,266.86 481.90,267.48 479.90,268.08 477.90,268.65 475.90,269.18 473.90,269.64 471.90,270.07 469.90,270.48 467.90,270.86 465.90,271.22 463.90,271.56 461.90,271.88 459.90,272.19 457.90,272.47 455.90,272.74 453.90,272.99 451.90,273.22 449.90,273.41 447.90,273.59 445.90,273.75 443.90,273.89 441.90,273.99 439.90,274.03 437.90,274.04 435.90,274.06 433.90,274.10 431.90,274.29 429.90,274.60" fill="#0066ff"/>
<polygon points="429.90,256.87 431.90,256.98 433.90,257.02 435.90,257.00 437.90,256.91 439.90,256.75 441.90,256.55 443.90,256.24 445.90,255.80 447.90,255.26 449.90,254.63 451.90,253.94 453.90,253.21 455.90,252.47 457.90,251.73 459.90,250.93 461.90,250.03 463.90,249.05 465.90,248.02 467.90,246.96 469.90,245.90 471.90,244.86 473.90,243.88 475.90,242.94 477.90,242.01 479.90,241.10 481.90,240.19 483.90,239.28 485.90,238.37 487.90,237.45 489.90,236.53 491.90,235.60 493.90,234.66 495.90,233.71 497.90,232.77 499.90,231.81 501.90,230.86 503.90,229.90 505.90,228.95 507.90,227.99 509.90,227.03 511.90,226.07 513.90,225.11 515.90,224.16 517.90,223.20 519.90,222.24 521.90,221.28 523.90,220.32 525.90,219.35 527.90,218.39 529.90,217.43 531.90,216.46 533.90,215.49 535.90,214.53 537.90,213.56 539.90,212.59 541.90,211.62 543.95,210.62 543.95,245.90 541.90,246.52 539.90,247.12 537.90,247.73 535.90,248.34 533.90,248.95 531.90,249.57 529.90,250.19 527.90,250.81 525.90,251.44 523.90,252.06 521.90,252.69 519.90,253.32 517.90,253.96 515.90,254.60 513.90,255.24 511.90,255.89 509.90,256.54 507.90,257.20 505.90,257.87 503.90,258.53 501.90,259.20 499.90,259.87 497.90,260.54 495.90,261.20 493.90,261.86 491.90,262.51 489.90,263.16 487.90,263.81 485.90,264.48 483.90,265.15 481.90,265.81 479.90,266.45 477.90,267.06 475.90,267.63 473.90,268.15 471.90,268.65 469.90,269.13 467.90,269.59 465.90,270.03 463.90,270.46 461.90,270.88 459.90,271.27 457.90,271.63 455.90,271.97 453.90,272.28 451.90,272.56 449.90,272.82 447.90,273.06 445.90,273.29 443.90,273.49 441.90,273.63 439.90,273.72 437.90,273.78 435.90,273.83 433.90,273.92 431.90,274.16 429.90,274.53" fill="#00ccff"/>
<polygon points="429.90,257.72 431.90,257.79 433.90,257.78 435.90,257.72 437.90,257.59 439.90,257.40 441.90,257.18 443.90,256.85 445.90,256.40 447.90,255.85 449.90,255.22 451.90,254.53 453.90,253.81 455.90,253.08 457.90,252.37 459.90,251.61 461.90,250.77 463.90,249.87 465.90,248.93 467.90,247.96 469.90,247.00 471.90,246.04 473.90,245.13 475.90,244.25 477.90,243.37 479.90,242.51 481.90,241.64 483.90,240.77 485.90,239.91 487.90,239.03 489.90,238.15 491.90,237.25 493.90,236.35 495.90,235.44 497.90,234.52 499.90,233.60 501.90,232.67 503.90,231.75 505.90,230.82 507.90,229.89 509.90,228.97 511.90,228.05 513.90,227.14 515.90,226.23 517.90,225.33 519.90,224.42 521.90,223.52 523.90,222.62 525.90,221.72 527.90,220.82 529.90,219.92 531.90,219.02 533.90,218.12 535.90,217.23 537.90,216.34 539.90,215.44 541.90,214.55 543.95,213.64 543.95,243.41 541.90,244.05 539.90,244.68 537.90,245.31 535.90,245.94 533.90,246.58 531.90,247.22 529.90,247.86 527.90,248.51 525.90,249.17 523.90,249.83 521.90,250.49 519.90,251.15 517.90,251.82 515.90,252.49 513.90,253.17 511.90,253.86 509.90,254.56 507.90,255.27 505.90,255.98 503.90,256.69 501.90,257.41 499.90,258.13 497.90,258.85 495.90,259.56 493.90,260.26 491.90,260.96 489.90,261.65 487.90,262.34 485.90,263.04 483.90,263.73 481.90,264.42 479.90,265.09 477.90,265.73 475.90,266.34 473.90,266.92 471.90,267.47 469.90,268.01 467.90,268.54 465.90,269.05 463.90,269.55 461.90,270.04 459.90,270.50 457.90,270.94 455.90,271.33 453.90,271.69 451.90,272.02 449.90,272.33 447.90,272.62 445.90,272.90 443.90,273.15 441.90,273.34 439.90,273.47 437.90,273.55 435.90,273.64 433.90,273.77 431.90,274.05 429.90,274.48" fill="#00ffcc"/>
<polygon points="429.90,258.35 431.90,258.39 433.90,258.35 435.90,258.25 437.90,258.10 439.90,257.89 441.90,257.65 443.90,257.31 445.90,256.85 447.90,256.29 449.90,255.65 451.90,254.97 453.90,254.26 455.90,253.54 457.90,252.85 459.90,252.12 461.90,251.32 463.90,250.48 465.90,249.61 467.90,248.71 469.90,247.81 471.90,246.92 473.90,246.06 475.90,245.22 477.90,244.39 479.90,243.56 481.90,242.72 483.90,241.89 485.90,241.05 487.90,240.21 489.90,239.35 491.90,238.49 493.90,237.61 495.90,236.72 497.90,235.83 499.90,234.93 501.90,234.02 503.90,233.12 505.90,232.22 507.90,231.31 509.90,230.42 511.90,229.53 513.90,228.65 515.90,227.78 517.90,226.92 519.90,226.05 521.90,225.19 523.90,224.33 525.90,223.48 527.90,222.63 529.90,221.78 531.90,220.93 533.90,220.09 535.90,219.25 537.90,218.41 539.90,217.58 541.90,216.75 543.95,215.90 543.95,241.07 541.90,241.73 539.90,242.37 537.90,243.02 535.90,243.67 533.90,244.33 531.90,245.00 529.90,245.67 527.90,246.35 525.90,247.03 523.90,247.71 521.90,248.41 519.90,249.10 517.90,249.80 515.90,250.51 513.90,251.22 511.90,251.95 509.90,252.69 507.90,253.44 505.90,254.20 503.90,254.96 501.90,255.73 499.90,256.49 497.90,257.25 495.90,258.01 493.90,258.76 491.90,259.50 489.90,260.22 487.90,260.95 485.90,261.67 483.90,262.40 481.90,263.11 479.90,263.81 477.90,264.48 475.90,265.13 473.90,265.75 471.90,266.36 469.90,266.96 467.90,267.55 465.90,268.12 463.90,268.69 461.90,269.25 459.90,269.79 457.90,270.28 455.90,270.72 453.90,271.13 451.90,271.51 449.90,271.86 447.90,272.20 445.90,272.53 443.90,272.83 441.90,273.06 439.90,273.23 437.90,273.34 435.90,273.46 433.90,273.62 431.90,273.95 429.90,274.42" fill="#00ff66"/>
<polygon points="429.90,258.84 431.90,258.85 433.90,258.78 435.90,258.66 437.90,258.49 439.90,258.26 441.90,258.01 443.90,257.66 445.90,257.19 447.90,256.62 449.90,255.99 451.90,255.31 453.90,254.60 455.90,253.90 457.90,253.21 459.90,252.51 461.90,251.75 463.90,250.95 465.90,250.13 467.90,249.28 469.90,248.44 471.90,247.60 473.90,246.78 475.90,245.97 477.90,245.17 479.90,244.36 481.90,243.55 483.90,242.74 485.90,241.93 487.90,241.11 489.90,240.27 491.90,239.43 493.90,238.58 495.90,237.71 497.90,236.83 499.90,235.95 501.90,235.06 503.90,234.17 505.90,233.28 507.90,232.40 509.90,231.53 511.90,230.66 513.90,229.81 515.90,228.97 517.90,228.13 519.90,227.30 521.90,226.47 523.90,225.65 525.90,224.83 527.90,224.01 529.90,223.20 531.90,222.39 533.90,221.59 535.90,220.79 537.90,220.00 539.90,219.21 541.90,218.42 543.95,217.62 543.95,238.92 541.90,239.59 539.90,240.25 537.90,240.92 535.90,241.59 533.90,242.27 531.90,242.96 529.90,243.66 527.90,244.36 525.90,245.07 523.90,245.78 521.90,246.50 519.90,247.22 517.90,247.95 515.90,248.69 513.90,249.43 511.90,250.20 509.90,250.97 507.90,251.76 505.90,252.56 503.90,253.37 501.90,254.18 499.90,254.99 497.90,255.79 495.90,256.59 493.90,257.38 491.90,258.15 489.90,258.91 487.90,259.67 485.90,260.42 483.90,261.17 481.90,261.91 479.90,262.64 477.90,263.34 475.90,264.02 473.90,264.69 471.90,265.34 469.90,266.00 467.90,266.64 465.90,267.27 463.90,267.90 461.90,268.53 459.90,269.13 457.90,269.68 455.90,270.17 453.90,270.62 451.90,271.05 449.90,271.44 447.90,271.82 445.90,272.20 443.90,272.53 441.90,272.81 439.90,273.01 437.90,273.15 435.90,273.29 433.90,273.49 431.90,273.86 429.90,274.37" fill="#00ff00"/>
<polygon points="429.90,259.35 431.90,259.33 433.90,259.24 435.90,259.10 437.90,258.90 439.90,258.66 441.90,258.39 443.90,258.03 445.90,257.55 447.90,256.98 449.90,256.34 451.90,255.66 453.90,254.97 455.90,254.27 457.90,253.60 459.90,252.92 461.90,252.20 463.90,251.45 465.90,250.68 467.90,249.89 469.90,249.10 471.90,248.31 473.90,247.53 475.90,246.76 477.90,245.99 479.90,245.21 481.90,244.43 483.90,243.65 485.90,242.86 487.90,242.06 489.90,241.25 491.90,240.43 493.90,239.60 495.90,238.75 497.90,237.89 499.90,237.02 501.90,236.15 503.90,235.28 505.90,234.42 507.90,233.55 509.90,232.70 511.90,231.86 513.90,231.03 515.90,230.22 517.90,229.42 519.90,228.62 521.90,227.83 523.90,227.04 525.90,226.26 527.90,225.48 529.90,224.71 531.90,223.94 533.90,223.18 535.90,222.42 537.90,221.68 539.90,220.93 541.90,220.20 543.95,219.45 543.95,236.84 541.90,237.53 539.90,238.21 537.90,238.89 535.90,239.58 533.90,240.28 531.90,240.99 529.90,241.71 527.90,242.44 525.90,243.17 523.90,243.91 521.90,244.65 519.90,245.41 517.90,246.16 515.90,246.93 513.90,247.70 511.90,248.50 509.90,249.31 507.90,250.14 505.90,250.98 503.90,251.83 501.90,252.68 499.90,253.53 497.90,254.38 495.90,255.21 493.90,256.04 491.90,256.85 489.90,257.65 487.90,258.43 485.90,259.21 483.90,259.99 481.90,260.75 479.90,261.50 477.90,262.23 475.90,262.95 473.90,263.65 471.90,264.36 469.90,265.06 467.90,265.76 465.90,266.45 463.90,267.14 461.90,267.83 459.90,268.49 457.90,269.09 455.90,269.63 453.90,270.13 451.90,270.59 449.90,271.03 447.90,271.46 445.90,271.87 443.90,272.25 441.90,272.57 439.90,272.79 437.90,272.96 435.90,273.13 433.90,273.36 431.90,273.77 429.90,274.33" fill="#66ff00"/>
<polygon points="429.90,259.76 431.90,259.72 433.90,259.61 435.90,259.44 437.90,259.23 439.90,258.97 441.90,258.70 443.90,258.32 445.90,257.84 447.90,257.26 449.90,256.63 451.90,255.95 453.90,255.25 455.90,254.57 457.90,253.91 459.90,253.24 461.90,252.56 463.90,251.84 465.90,251.12 467.90,250.37 469.90,249.63 471.90,248.88 473.90,248.13 475.90,247.39 477.90,246.64 479.90,245.89 481.90,245.13 483.90,244.37 485.90,243.60 487.90,242.82 489.90,242.03 491.90,241.23 493.90,240.41 495.90,239.58 497.90,238.73 499.90,237.88 501.90,237.02 503.90,236.17 505.90,235.31 507.90,234.47 509.90,233.63 511.90,232.81 513.90,232.00 515.90,231.22 517.90,230.44 519.90,229.67 521.90,228.90 523.90,228.14 525.90,227.39 527.90,226.64 529.90,225.90 531.90,225.17 533.90,224.44 535.90,223.72 537.90,223.01 539.90,222.31 541.90,221.61 543.95,220.90 543.95,234.86 541.90,235.57 539.90,236.26 537.90,236.96 535.90,237.68 533.90,238.40 531.90,239.13 529.90,239.86 527.90,240.61 525.90,241.37 523.90,242.13 521.90,242.90 519.90,243.68 517.90,244.47 515.90,245.26 513.90,246.06 511.90,246.89 509.90,247.74 507.90,248.60 505.90,249.48 503.90,250.37 501.90,251.26 499.90,252.15 497.90,253.03 495.90,253.91 493.90,254.77 491.90,255.62 489.90,256.45 487.90,257.26 485.90,258.07 483.90,258.86 481.90,259.65 479.90,260.42 477.90,261.18 475.90,261.92 473.90,262.67 471.90,263.42 469.90,264.18 467.90,264.93 465.90,265.67 463.90,266.41 461.90,267.16 459.90,267.88 457.90,268.54 455.90,269.12 453.90,269.66 451.90,270.16 449.90,270.64 447.90,271.11 445.90,271.56 443.90,271.98 441.90,272.33 439.90,272.59 437.90,272.78 435.90,272.98 433.90,273.24 431.90,273.69 429.90,274.28" fill="#ccff00"/>
<polygon points="429.90,260.19 431.90,260.13 433.90,259.99 435.90,259.81 437.90,259.57 439.90,259.31 441.90,259.02 443.90,258.63 445.90,258.14 447.90,257.56 449.90,256.93 451.90,256.25 453.90,255.56 455.90,254.88 457.90,254.23 459.90,253.59 461.90,252.93 463.90,252.26 465.90,251.58 467.90,250.88 469.90,250.18 471.90,249.48 473.90,248.77 475.90,248.05 477.90,247.33 479.90,246.61 481.90,245.87 483.90,245.13 485.90,244.38 487.90,243.62 489.90,242.85 491.90,242.07 493.90,241.27 495.90,240.45 497.90,239.63 499.90,238.79 501.90,237.95 503.90,237.10 505.90,236.27 507.90,235.44 509.90,234.62 511.90,233.82 513.90,233.03 515.90,232.27 517.90,231.52 519.90,230.78 521.90,230.04 523.90,229.31 525.90,228.59 527.90,227.88 529.90,227.17 531.90,226.47 533.90,225.78 535.90,225.10 537.90,224.42 539.90,223.76 541.90,223.10 543.95,222.43 543.95,233.15 541.90,233.87 539.90,234.58 537.90,235.30 535.90,236.02 533.90,236.76 531.90,237.51 529.90,238.26 527.90,239.03 525.90,239.81 523.90,240.59 521.90,241.38 519.90,242.19 517.90,243.00 515.90,243.81 513.90,244.64 511.90,245.50 509.90,246.37 507.90,247.27 505.90,248.18 503.90,249.10 501.90,250.03 499.90,250.95 497.90,251.87 495.90,252.78 493.90,253.68 491.90,254.55 489.90,255.41 487.90,256.25 485.90,257.07 483.90,257.89 481.90,258.69 479.90,259.49 477.90,260.27 475.90,261.04 473.90,261.82 471.90,262.61 469.90,263.41 467.90,264.20 465.90,264.99 463.90,265.78 461.90,266.59 459.90,267.36 457.90,268.06 455.90,268.68 453.90,269.26 451.90,269.79 449.90,270.30 447.90,270.80 445.90,271.30 443.90,271.75 441.90,272.13 439.90,272.42 437.90,272.63 435.90,272.84 433.90,273.14 431.90,273.62 429.90,274.24" fill="#ffcc00"/>
<polygon points="429.90,260.60 431.90,260.51 433.90,260.36 435.90,260.15 437.90,259.90 439.90,259.62 441.90,259.32 443.90,258.93 445.90,258.43 447.90,257.85 449.90,257.21 451.90,256.53 453.90,255.85 455.90,255.18 457.90,254.54 459.90,253.92 461.90,253.29 463.90,252.66 465.90,252.02 467.90,251.37 469.90,250.71 471.90,250.04 473.90,249.37 475.90,248.68 477.90,247.99 479.90,247.28 481.90,246.57 483.90,245.85 485.90,245.12 487.90,244.37 489.90,243.63 491.90,242.87 493.90,242.08 495.90,241.28 497.90,240.47 499.90,239.64 501.90,238.82 503.90,237.99 505.90,237.17 507.90,236.35 509.90,235.55 511.90,234.77 513.90,234.01 515.90,233.27 517.90,232.55 519.90,231.83 521.90,231.12 523.90,230.42 525.90,229.73 527.90,229.04 529.90,228.37 531.90,227.70 533.90,227.04 535.90,226.40 537.90,225.76 539.90,225.13 541.90,224.52 543.95,223.88 543.95,231.26 541.90,232.00 539.90,232.72 537.90,233.46 535.90,234.20 533.90,234.96 531.90,235.72 529.90,236.50 527.90,237.29 525.90,238.08 523.90,238.89 521.90,239.71 519.90,240.54 517.90,241.37 515.90,242.22 513.90,243.07 511.90,243.96 509.90,244.87 507.90,245.80 505.90,246.75 503.90,247.70 501.90,248.67 499.90,249.63 497.90,250.59 495.90,251.53 493.90,252.47 491.90,253.38 489.90,254.26 487.90,255.13 485.90,255.98 483.90,256.81 481.90,257.64 479.90,258.46 477.90,259.26 475.90,260.07 473.90,260.88 471.90,261.72 469.90,262.56 467.90,263.41 465.90,264.24 463.90,265.09 461.90,265.95 459.90,266.78 457.90,267.53 455.90,268.20 453.90,268.81 451.90,269.38 449.90,269.93 447.90,270.47 445.90,271.00 443.90,271.49 441.90,271.91 439.90,272.22 437.90,272.46 435.90,272.70 433.90,273.02 431.90,273.53 429.90,274.20" fill="#ff6600"/>
<polygon points="429.90,260.90 431.40,260.87 432.90,260.81 434.40,260.72 435.90,260.61 437.40,260.49 438.90,260.35 440.40,260.20 441.90,260.05 443.40,259.85 444.90,259.60 446.40,259.32 447.90,259.00 449.40,258.66 450.90,258.30 452.40,257.92 453.90,257.54 455.40,257.16 456.90,256.79 458.40,256.43 459.90,256.08 461.40,255.71 462.90,255.34 464.40,254.96 465.90,254.57 467.40,254.18 468.90,253.78 470.40,253.36 471.90,252.94 473.40,252.51 474.90,252.06 476.40,251.60 477.90,251.13 479.40,250.65 480.90,250.15 482.40,249.64 483.90,249.12 485.40,248.59 486.90,248.04 488.40,247.49 489.90,246.93 490.50,246.70 502.80,242.30 490.50,248.60 489.90,248.88 488.40,249.57 486.90,250.27 485.40,250.98 483.90,251.69 482.40,252.41 480.90,253.13 479.40,253.87 477.90,254.61 476.40,255.36 474.90,256.10 473.40,256.85 471.90,257.59 470.40,258.33 468.90,259.07 467.40,259.81 465.90,260.55 464.40,261.30 462.90,262.05 461.40,262.80 459.90,263.55 458.40,264.27 456.90,264.97 455.40,265.67 453.90,266.36 452.40,267.02 450.90,267.65 449.40,268.23 447.90,268.80 446.40,269.35 444.90,269.86 443.40,270.34 441.90,270.77 440.40,271.13 438.90,271.42 437.40,271.68 435.90,271.96 434.40,272.29 432.90,272.75 431.40,273.33 429.90,274.00" fill="#ff0000"/>
<rect x="403.10" y="260.75" width="28.30" height="13.3" fill="#ff0000"/>
<polygon points="451.80,277.60 459.60,275.50 467.80,274.60 471.60,279.80 474.90,285.30 476.50,290.70 474.70,296.00 474.50,293.00 472.70,287.40 469.40,283.10 465.10,280.40 458.50,278.70" fill="#0066ff" stroke="#0066ff" stroke-width="0.3" stroke-linejoin="round"/>
<polygon points="403.10,253.55 404.10,253.58 405.10,253.61 406.10,253.65 407.10,253.69 408.10,253.73 409.10,253.78 410.10,253.83 411.10,253.88 412.10,253.94 413.10,254.00 414.10,254.06 415.10,254.12 416.10,254.19 417.10,254.27 418.10,254.36 419.10,254.44 420.10,254.53 421.10,254.63 422.10,254.72 423.10,254.82 424.10,254.91 425.10,255.01 426.10,255.11 427.10,255.22 428.10,255.33 429.10,255.44 430.10,255.55 431.10,255.65 432.10,255.76 432.40,255.79 432.40,258.25 403.10,258.25" fill="#00ccff"/>
<polygon points="409.90,253.82 410.90,253.87 411.90,253.93 412.90,253.99 413.90,254.04 414.90,254.11 415.90,254.18 416.90,254.26 417.90,254.34 418.90,254.43 419.90,254.52 420.90,254.61 421.90,254.70 422.90,254.80 423.90,254.89 424.90,254.99 425.90,255.09 426.90,255.20 427.90,255.30 428.90,255.42 429.90,255.53 430.90,255.63 431.90,255.74 432.40,255.79 432.40,258.25 409.90,258.25" fill="#00ffcc"/>
<polygon points="414.90,254.11 415.90,254.18 416.90,254.26 417.90,254.34 418.90,254.43 419.90,254.52 420.90,254.61 421.90,254.70 422.90,254.80 423.90,254.89 424.90,254.99 425.90,255.09 426.90,255.20 427.90,255.30 428.90,255.42 429.90,255.53 430.90,255.63 431.90,255.74 432.40,255.79 432.40,258.25 414.90,258.25" fill="#00ff66"/>
<polygon points="421.90,254.70 422.90,254.80 423.90,254.89 424.90,254.99 425.90,255.09 426.90,255.20 427.90,255.30 428.90,255.42 429.90,255.53 430.90,255.63 431.90,255.74 432.40,255.79 432.40,258.25 421.90,258.25" fill="#00ff00"/>
<polygon points="427.90,255.30 428.90,255.42 429.90,255.53 430.90,255.63 431.90,255.74 432.40,255.79 432.40,258.25 427.90,258.25" fill="#66ff00"/>
<polygon points="429.90,257.65 429.90,260.75 436.40,259.25" fill="#0000ff"/>
<polygon points="403.10,238.45 474.20,238.45 474.20,238.95 474.10,239.04 473.10,239.89 472.10,240.68 471.10,241.39 470.10,242.07 469.10,242.71 468.10,243.34 467.10,243.96 466.10,244.56 465.10,245.15 464.10,245.73 463.10,246.30 462.10,246.86 461.10,247.40 460.10,247.93 459.10,248.46 458.10,248.98 457.10,249.49 456.10,250.01 455.10,250.54 454.10,251.06 453.10,251.58 452.10,252.07 451.10,252.54 450.10,253.00 449.10,253.45 448.10,253.88 447.10,254.28 446.10,254.65 445.10,254.98 444.10,255.31 443.10,255.61 442.10,255.84 441.10,255.99 440.10,256.09 439.10,256.17 438.10,256.20 437.10,256.17 436.10,256.10 435.10,256.01 434.10,255.94 433.10,255.85 432.10,255.76 431.10,255.65 430.10,255.55 429.10,255.44 428.10,255.33 427.10,255.22 426.10,255.11 425.10,255.01 424.10,254.91 423.10,254.82 422.10,254.72 421.10,254.63 420.10,254.53 419.10,254.44 418.10,254.36 417.10,254.27 416.10,254.19 415.10,254.12 414.10,254.06 413.10,254.00 412.10,253.94 411.10,253.88 410.10,253.83 409.10,253.78 408.10,253.73 407.10,253.69 406.10,253.65 405.10,253.61 404.10,253.58 403.10,253.55" fill="#fff"/>
<polygon points="403.10,296.05 474.20,296.05 474.20,296.05 474.10,295.96 473.10,295.11 472.10,294.32 471.10,293.61 470.10,292.93 469.10,292.29 468.10,291.66 467.10,291.04 466.10,290.44 465.10,289.85 464.10,289.27 463.10,288.70 462.10,288.14 461.10,287.60 460.10,287.07 459.10,286.54 458.10,286.02 457.10,285.51 456.10,284.99 455.10,284.46 454.10,283.94 453.10,283.42 452.10,282.93 451.10,282.46 450.10,282.00 449.10,281.55 448.10,281.12 447.10,280.72 446.10,280.35 445.10,280.02 444.10,279.69 443.10,279.39 442.10,279.16 441.10,279.01 440.10,278.91 439.10,278.83 438.10,278.80 437.10,278.83 436.10,278.90 435.10,278.99 434.10,279.06 433.10,279.15 432.10,279.24 431.10,279.35 430.10,279.45 429.10,279.56 428.10,279.67 427.10,279.78 426.10,279.89 425.10,279.99 424.10,280.09 423.10,280.18 422.10,280.28 421.10,280.37 420.10,280.47 419.10,280.56 418.10,280.64 417.10,280.73 416.10,280.81 415.10,280.88 414.10,280.94 413.10,281.00 412.10,281.06 411.10,281.12 410.10,281.17 409.10,281.22 408.10,281.27 407.10,281.31 406.10,281.35 405.10,281.39 404.10,281.42 403.10,281.45" fill="#fff"/>
<rect x="403.10" y="257.70" width="26.80" height="3.05" fill="#fff"/>
<rect x="403.10" y="273.95" width="26.80" height="2.95" fill="#fff"/>
</g>
<path d="M403.40,203.50V330.70H543.45" fill="none" stroke="#000" stroke-width="0.6"/>
<path d="M403.10,322.85h3.2M403.10,308.95h3.2M403.10,295.05h3.2M403.10,281.15h3.2M403.10,267.25h3.2M403.10,253.35h3.2M403.10,239.45h3.2M403.10,225.55h3.2M403.10,211.65h3.2M430.50,330.70v-2.8M458.20,330.70v-2.8M485.90,330.70v-2.8M513.60,330.70v-2.8M541.30,330.70v-2.8" stroke="#000" stroke-width="0.8" fill="none"/>
<path d="M403.10,328.41h1.5M403.10,325.63h1.5M403.10,320.07h1.5M403.10,317.29h1.5M403.10,314.51h1.5M403.10,311.73h1.5M403.10,306.17h1.5M403.10,303.39h1.5M403.10,300.61h1.5M403.10,297.83h1.5M403.10,292.27h1.5M403.10,289.49h1.5M403.10,286.71h1.5M403.10,283.93h1.5M403.10,278.37h1.5M403.10,275.59h1.5M403.10,272.81h1.5M403.10,270.03h1.5M403.10,264.47h1.5M403.10,261.69h1.5M403.10,258.91h1.5M403.10,256.13h1.5M403.10,250.57h1.5M403.10,247.79h1.5M403.10,245.01h1.5M403.10,242.23h1.5M403.10,236.67h1.5M403.10,233.89h1.5M403.10,231.11h1.5M403.10,228.33h1.5M403.10,222.77h1.5M403.10,219.99h1.5M403.10,217.21h1.5M403.10,214.43h1.5M403.10,208.87h1.5M403.10,206.09h1.5M403.10,203.31h1.5M405.57,330.70v-1.3M408.34,330.70v-1.3M411.11,330.70v-1.3M413.88,330.70v-1.3M416.65,330.70v-2.4M419.42,330.70v-1.3M422.19,330.70v-1.3M424.96,330.70v-1.3M427.73,330.70v-1.3M433.27,330.70v-1.3M436.04,330.70v-1.3M438.81,330.70v-1.3M441.58,330.70v-1.3M444.35,330.70v-2.4M447.12,330.70v-1.3M449.89,330.70v-1.3M452.66,330.70v-1.3M455.43,330.70v-1.3M460.97,330.70v-1.3M463.74,330.70v-1.3M466.51,330.70v-1.3M469.28,330.70v-1.3M472.05,330.70v-2.4M474.82,330.70v-1.3M477.59,330.70v-1.3M480.36,330.70v-1.3M483.13,330.70v-1.3M488.67,330.70v-1.3M491.44,330.70v-1.3M494.21,330.70v-1.3M496.98,330.70v-1.3M499.75,330.70v-2.4M502.52,330.70v-1.3M505.29,330.70v-1.3M508.06,330.70v-1.3M510.83,330.70v-1.3M516.37,330.70v-1.3M519.14,330.70v-1.3M521.91,330.70v-1.3M524.68,330.70v-1.3M527.45,330.70v-2.4M530.22,330.70v-1.3M532.99,330.70v-1.3M535.76,330.70v-1.3M538.53,330.70v-1.3" stroke="#000" stroke-width="0.45" stroke-opacity="0.4" fill="none"/>
<text x="401.50" y="213.35" text-anchor="end" class="tk">200</text>
<text x="401.50" y="241.15" text-anchor="end" class="tk">100</text>
<text x="401.50" y="268.95" text-anchor="end" class="tk">0</text>
<text x="401.50" y="296.75" text-anchor="end" class="tk">−100</text>
<text x="401.50" y="324.55" text-anchor="end" class="tk">−200</text>
<text x="430.50" y="335.80" text-anchor="middle" class="tk">0</text>
<text x="458.20" y="335.80" text-anchor="middle" class="tk">100</text>
<text x="485.90" y="335.80" text-anchor="middle" class="tk">200</text>
<text x="513.60" y="335.80" text-anchor="middle" class="tk">300</text>
<text x="541.30" y="335.80" text-anchor="middle" class="tk">400</text>
<text x="473.27" y="341.40" text-anchor="middle" class="al"><tspan font-style="italic">x</tspan> (mm)</text>
<text transform="translate(391.60,267.25) rotate(-90)" text-anchor="middle" class="al"><tspan font-style="italic">y</tspan> (mm)</text>
<text x="465.10" y="358.40" text-anchor="middle" class="sl">(<tspan font-weight="bold">f</tspan>)</text>
</svg></body></html>
